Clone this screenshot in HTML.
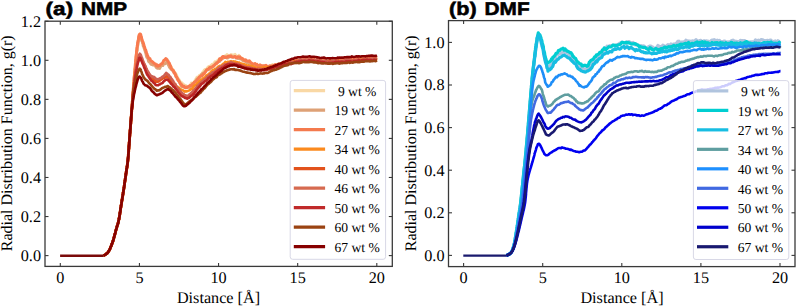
<!DOCTYPE html>
<html><head><meta charset="utf-8"><style>html,body{margin:0;padding:0;background:#fff;width:798px;height:308px;overflow:hidden}svg{display:block}text{text-rendering:geometricPrecision}</style></head>
<body><svg width="798" height="308" viewBox="0 0 798 308">
<style>.t{font-family:"Liberation Serif",serif;font-size:16.2px;fill:#000}
.lg{font-family:"Liberation Serif",serif;font-size:13.6px;fill:#000}
.ti{font-family:"Liberation Sans",sans-serif;font-weight:bold;font-size:18.4px;fill:#000;stroke:#000;stroke-width:0.55px}</style>
<rect width="798" height="308" fill="#fff"/>
<g><line x1="60.1" y1="255.7" x2="104.5" y2="255.7" stroke="#7a0a0a" stroke-width="2.4"/>
<path d="M103.5,255.7 104.3,255.2 105.5,254.5 106.3,253.9 107.1,253.3 108.0,252.3 108.5,251.6 109.0,250.7 109.5,249.8 110.0,248.8 110.5,247.6 110.8,246.8 111.2,246.0 111.5,245.1 111.9,244.1 112.2,243.2 112.6,242.1 113.0,241.1 113.3,240.0 113.6,239.1 113.8,238.2 114.1,237.2 114.4,236.2 114.7,235.2 114.9,234.1 115.2,233.1 115.5,232.0 115.7,231.0 116.0,230.0 116.3,229.0 116.6,228.1 116.8,227.2 117.1,226.2 117.4,225.3 117.7,224.4 118.0,223.4 118.3,222.3 118.5,221.2 118.8,220.0 119.0,219.1 119.1,218.3 119.3,217.3 119.5,216.4 119.6,215.4 119.8,214.4 119.9,213.3 120.1,212.3 120.3,211.2 120.4,210.2 120.6,209.1 120.7,208.1 120.9,207.0 121.0,206.0 121.2,205.0 121.4,204.0 121.5,203.0 121.7,202.0 121.8,201.0 122.0,200.0 122.2,199.0 122.3,198.0 122.5,197.0 122.7,196.0 122.8,195.0 123.0,194.0 123.1,193.0 123.3,192.0 123.4,191.0 123.6,190.0 123.8,189.0 123.9,188.0 124.1,187.0 124.2,186.0 124.4,185.0 124.5,184.0 124.6,183.0 124.8,182.0 124.9,181.0 125.1,180.0 125.2,179.0 125.4,178.0 125.5,177.0 125.7,176.0 125.8,175.0 125.9,174.0 126.1,173.0 126.2,172.0 126.4,171.1 126.5,170.1 126.7,169.1 126.8,168.2 127.0,167.2 127.1,166.2 127.3,165.2 127.4,164.2 127.5,163.2 127.7,162.2 127.8,161.1 127.9,160.0 128.0,159.1 128.1,158.1 128.2,157.2 128.3,156.2 128.3,155.2 128.4,154.2 128.5,153.2 128.6,152.2 128.7,151.1 128.7,150.1 128.8,149.1 128.9,148.0 128.9,147.0 129.0,146.0 129.1,145.0 129.2,144.0 129.2,143.0 129.3,142.0 129.4,141.0 129.5,140.0 129.5,138.9 129.6,137.9 129.7,136.9 129.8,135.9 129.8,134.9 129.9,133.9 130.0,132.9 130.1,132.0 130.1,131.0 130.2,130.0 130.3,129.0 130.4,128.0 130.4,127.0 130.5,126.0 130.6,125.0 130.7,124.0 130.8,123.0 130.8,122.0 130.9,121.0 131.0,120.0 131.1,119.0 131.1,118.0 131.2,117.1 131.3,116.1 131.4,115.1 131.4,114.1 131.5,113.1 131.6,112.1 131.7,111.1 131.7,110.0 131.8,109.0 131.9,108.0 132.0,107.0 132.0,106.5 132.1,105.8 132.2,104.5 132.2,102.3 132.3,101.8 132.4,100.4 132.5,100.2 132.5,98.5 132.6,98.6 132.7,97.7 132.7,97.7 132.8,96.1 132.9,95.0 133.0,93.3 133.0,91.8 133.1,91.9 133.2,90.4 133.3,89.5 133.4,88.4 133.4,87.7 133.5,85.2 133.6,83.6 133.7,83.9 133.8,84.4 133.9,81.2 134.0,80.2 134.1,79.7 134.2,78.4 134.2,77.4 134.3,76.3 134.4,76.1 134.5,74.8 134.6,73.7 134.7,71.8 134.8,71.7 134.9,71.6 135.0,70.3 135.1,68.5 135.2,66.6 135.3,66.3 135.4,65.5 135.5,64.1 135.6,61.6 135.7,61.0 135.8,59.9 135.9,58.9 136.0,58.7 136.1,57.1 136.2,56.4 136.3,56.5 136.4,54.6 136.5,53.7 136.6,53.3 136.7,51.8 136.8,50.2 136.9,50.2 137.1,49.6 137.2,46.9 137.4,46.1 137.5,45.0 137.7,45.1 137.8,42.7 138.0,42.2 138.1,40.6 138.2,39.9 138.4,39.8 138.5,39.0 138.8,37.4 139.2,35.7 139.5,34.2 139.8,35.1 140.2,36.2 140.7,36.7 141.2,37.8 141.5,39.5 141.8,40.3 142.2,41.1 142.5,42.5 142.9,42.5 143.2,43.3 143.5,44.7 143.8,45.1 144.1,46.6 144.4,47.9 144.7,49.3 145.0,50.4 145.4,50.2 145.8,51.7 146.2,53.3 146.6,55.0 147.0,56.2 147.5,56.5 148.0,57.3 148.4,57.6 148.9,58.8 149.4,59.6 150.0,60.1 150.5,61.3 151.3,63.2 152.2,64.4 153.1,64.4 154.0,64.5 154.8,65.3 155.6,66.4 156.4,67.2 157.2,67.6 158.0,67.4 158.8,67.0 159.6,68.0 160.4,67.0 161.2,64.9 162.0,64.8 162.9,63.3 163.8,62.9 164.7,61.7 165.7,61.6 166.5,61.1 167.1,61.5 167.7,62.7 168.2,63.8 168.8,63.4 169.3,65.9 170.0,65.2 170.6,65.9 171.3,67.2 172.0,68.8 172.8,69.6 173.5,70.2 174.3,72.0 175.0,72.7 175.6,73.3 176.1,74.8 176.7,75.0 177.2,77.5 177.8,78.5 178.3,78.7 178.9,79.4 179.4,80.3 180.0,81.5 180.7,82.4 181.4,82.5 182.1,82.9 182.9,84.9 183.6,84.4 184.3,84.9 185.0,86.4 185.9,85.5 186.8,86.3 187.6,86.7 188.7,87.2 190.0,85.9 190.6,84.6 191.3,83.0 192.0,83.5 192.8,83.1 193.6,82.7 194.4,82.0 195.2,80.2 196.1,78.9 196.9,77.3 197.7,77.2 198.5,77.0 199.3,75.5 200.0,75.1 200.9,74.8 201.7,74.5 202.6,72.5 203.4,71.6 204.2,70.3 205.0,69.4 205.7,69.7 206.5,69.5 207.2,68.1 208.0,67.3 208.9,66.4 209.8,67.2 210.7,65.6 211.6,64.9 212.4,64.1 213.3,64.4 214.1,63.4 215.0,61.8 215.8,62.1 216.5,61.7 217.3,60.9 218.1,60.2 218.8,59.6 219.6,59.1 220.4,58.9 221.2,58.2 222.0,57.9 223.0,57.3 223.9,56.7 224.9,56.0 225.9,55.7 227.0,54.6 228.0,55.6 229.0,56.5 230.0,55.5 231.0,54.5 232.0,55.0 233.0,54.8 234.1,55.6 235.1,54.4 236.1,56.1 237.0,56.8 238.0,56.7 238.9,55.3 239.7,56.3 240.5,58.2 241.2,58.4 242.1,58.2 242.9,59.2 243.9,59.9 245.0,59.7 245.8,60.6 246.6,61.8 247.4,62.5 248.4,63.1 249.3,63.1 250.3,62.8 251.2,63.3 252.2,65.0 253.2,65.0 254.2,65.4 255.2,64.6 256.1,65.8 257.0,65.8 258.0,66.9 259.0,66.1 260.0,66.1 261.0,66.1 262.0,66.0 263.0,66.1 264.0,66.5 265.0,66.5 266.0,66.8 267.0,67.8 268.0,67.3 268.9,67.1 269.8,66.2 270.7,67.4 271.6,66.1 272.5,64.6 273.4,65.4 274.4,65.7 275.4,64.9 276.4,65.9 277.5,64.2 278.7,63.5 280.0,64.0 280.8,63.9 281.7,63.8 282.7,64.2 283.6,63.7 284.7,64.4 285.7,62.7 286.8,63.2 287.9,64.2 289.0,63.2 290.1,63.0 291.2,63.2 292.3,62.3 293.4,61.6 294.5,59.8 295.5,60.2 296.5,61.3 297.5,60.9 298.4,60.1 299.2,60.5 300.0,60.5 301.4,60.5 302.6,60.0 303.7,60.3 304.7,59.5 305.6,60.9 306.5,60.5 307.3,59.8 308.2,60.2 309.0,59.9 310.0,60.0 311.0,59.6 312.0,59.6 313.0,59.6 314.0,59.7 315.0,60.3 316.0,59.9 317.0,59.9 318.0,60.4 319.0,59.9 320.0,60.3 321.0,60.7 321.9,60.9 322.8,60.8 323.8,59.2 324.7,60.5 325.6,61.1 326.6,60.7 327.7,61.5 328.8,61.2 330.0,60.6 330.9,60.6 331.7,61.0 332.7,60.6 333.6,60.6 334.6,61.2 335.6,62.0 336.7,60.9 337.7,60.4 338.8,61.6 339.8,60.7 340.9,60.4 341.9,60.3 343.0,60.5 344.0,60.6 345.0,60.7 346.0,61.2 347.0,61.1 348.0,61.1 348.9,59.5 349.9,60.2 350.9,61.6 351.9,60.1 352.9,60.8 353.9,59.6 354.9,59.4 355.9,59.1 356.9,58.3 357.9,58.9 358.9,58.6 360.0,59.8 361.0,58.8 362.0,58.0 363.1,60.0 364.2,59.3 365.4,59.3 366.5,60.6 367.7,59.2 368.9,58.1 370.0,58.4 371.1,58.6 372.2,58.4 373.2,58.8 374.1,57.9 375.0,59.0 375.8,58.6 376.4,58.4 377.0,59.4" fill="none" stroke="#f7d7a3" stroke-width="2.9" stroke-linejoin="round" stroke-linecap="butt"/>
<path d="M103.5,255.7 104.3,255.2 105.5,254.5 106.3,253.9 107.1,253.3 108.0,252.3 108.5,251.6 109.0,250.7 109.5,249.8 110.0,248.8 110.5,247.6 110.8,246.8 111.2,246.0 111.5,245.1 111.9,244.1 112.2,243.2 112.6,242.1 113.0,241.1 113.3,240.0 113.6,239.1 113.8,238.2 114.1,237.2 114.4,236.2 114.7,235.2 114.9,234.1 115.2,233.1 115.5,232.0 115.7,231.0 116.0,230.0 116.3,229.0 116.6,228.1 116.8,227.2 117.1,226.2 117.4,225.3 117.7,224.4 118.0,223.4 118.3,222.3 118.5,221.2 118.8,220.0 119.0,219.1 119.1,218.3 119.3,217.3 119.5,216.4 119.6,215.4 119.8,214.4 119.9,213.3 120.1,212.3 120.3,211.2 120.4,210.2 120.6,209.1 120.7,208.1 120.9,207.0 121.0,206.0 121.2,205.0 121.4,204.0 121.5,203.0 121.7,202.0 121.8,201.0 122.0,200.0 122.2,199.0 122.3,198.0 122.5,197.0 122.7,196.0 122.8,195.0 123.0,194.0 123.1,193.0 123.3,192.0 123.4,191.0 123.6,190.0 123.8,189.0 123.9,188.0 124.1,187.0 124.2,186.0 124.4,185.0 124.5,184.0 124.6,183.0 124.8,182.0 124.9,181.0 125.1,180.0 125.2,179.0 125.4,178.0 125.5,177.0 125.7,176.0 125.8,175.0 125.9,174.0 126.1,173.0 126.2,172.0 126.4,171.1 126.5,170.1 126.7,169.1 126.8,168.2 127.0,167.2 127.1,166.2 127.3,165.2 127.4,164.2 127.5,163.2 127.7,162.2 127.8,161.1 127.9,160.0 128.0,159.1 128.1,158.1 128.2,157.2 128.3,156.2 128.3,155.2 128.4,154.2 128.5,153.2 128.6,152.2 128.7,151.1 128.7,150.1 128.8,149.1 128.9,148.0 128.9,147.0 129.0,146.0 129.1,145.0 129.2,144.0 129.2,143.0 129.3,142.0 129.4,141.0 129.5,140.0 129.5,138.9 129.6,137.9 129.7,136.9 129.8,135.9 129.8,134.9 129.9,133.9 130.0,132.9 130.1,132.0 130.1,131.0 130.2,130.0 130.3,129.0 130.4,128.0 130.4,127.0 130.5,126.0 130.6,125.0 130.7,124.0 130.8,123.0 130.8,122.0 130.9,121.0 131.0,120.0 131.1,119.0 131.1,118.0 131.2,117.1 131.3,116.1 131.4,115.1 131.4,114.1 131.5,113.1 131.6,112.1 131.7,111.1 131.7,110.0 131.8,109.0 131.9,108.0 132.0,107.0 132.0,105.8 132.1,104.8 132.2,105.1 132.2,103.2 132.3,101.4 132.4,101.1 132.5,100.2 132.5,99.5 132.6,98.1 132.7,97.9 132.7,96.7 132.8,96.6 132.9,94.9 133.0,93.5 133.0,92.9 133.1,91.8 133.2,89.9 133.3,89.4 133.4,87.8 133.5,87.6 133.5,85.9 133.6,85.1 133.7,83.6 133.8,83.0 133.9,82.6 134.0,81.7 134.1,79.8 134.2,78.1 134.3,77.8 134.4,76.4 134.5,75.2 134.6,74.8 134.7,73.0 134.8,72.8 134.9,72.2 135.0,70.7 135.1,69.1 135.2,68.2 135.3,68.1 135.4,66.7 135.5,66.0 135.6,64.5 135.7,63.3 135.8,62.2 135.9,61.1 136.0,60.2 136.1,59.4 136.2,58.7 136.3,57.1 136.4,55.5 136.5,54.5 136.6,53.4 136.7,51.9 136.8,51.9 136.9,51.0 137.1,50.9 137.2,48.9 137.4,47.0 137.5,46.6 137.7,45.6 137.8,45.1 138.0,43.9 138.1,43.9 138.2,42.0 138.4,41.4 138.5,40.3 138.8,38.4 139.2,36.4 139.5,36.4 139.8,35.2 140.2,36.2 140.7,37.7 141.2,39.3 141.5,39.1 141.8,41.0 142.2,41.5 142.5,43.0 142.9,43.8 143.2,46.0 143.5,46.1 143.8,46.9 144.1,48.1 144.4,48.3 144.7,49.5 145.0,50.7 145.4,52.1 145.8,53.0 146.2,55.1 146.6,56.7 147.0,57.6 147.5,57.9 148.0,59.0 148.4,60.8 148.9,61.8 149.4,62.3 150.0,62.3 150.5,63.6 151.3,64.4 152.2,64.7 153.1,65.0 154.0,64.9 154.8,65.2 155.6,66.0 156.4,67.5 157.2,68.3 158.0,68.2 158.8,68.1 159.6,68.4 160.4,66.6 161.2,65.9 162.0,64.8 162.9,65.5 163.8,64.0 164.7,63.9 165.7,63.3 166.5,62.4 167.1,63.2 167.7,63.7 168.2,64.7 168.8,65.6 169.3,66.9 170.0,68.0 170.6,68.1 171.1,69.4 171.8,69.6 172.4,70.0 173.1,71.2 173.7,72.0 174.4,73.0 175.0,73.8 175.6,75.6 176.1,76.9 176.7,77.2 177.2,79.0 177.8,79.6 178.3,80.1 178.9,80.7 179.4,82.2 180.0,83.0 180.7,84.1 181.4,86.4 182.1,86.7 182.9,86.8 183.6,86.7 184.3,87.3 185.0,87.5 185.9,87.8 186.8,86.9 187.6,87.6 188.7,86.7 190.0,87.4 190.6,86.2 191.3,86.0 192.0,85.2 192.8,83.9 193.6,83.4 194.4,82.3 195.2,81.5 196.1,80.8 196.9,79.0 197.7,79.6 198.5,78.8 199.3,77.8 200.0,77.7 200.9,75.9 201.7,74.0 202.6,74.2 203.4,73.2 204.2,72.7 205.0,71.8 205.7,71.2 206.5,70.2 207.2,69.9 208.0,69.8 208.9,69.1 209.8,69.2 210.7,68.3 211.6,67.6 212.4,66.9 213.3,66.5 214.1,65.7 215.0,64.4 215.8,63.6 216.5,62.5 217.3,62.4 218.1,62.1 218.8,61.6 219.6,61.4 220.4,60.1 221.2,58.4 222.0,58.3 223.0,58.3 223.9,57.1 224.9,56.8 225.9,56.6 227.0,58.0 228.0,58.0 229.0,57.0 230.0,56.7 231.0,56.9 232.0,57.1 233.0,57.2 234.1,56.6 235.1,56.6 236.1,58.0 237.0,57.9 238.0,58.6 239.0,58.5 239.9,58.8 240.8,59.2 241.7,59.4 242.7,60.5 243.7,61.1 245.0,61.2 245.8,61.5 246.6,62.5 247.4,61.9 248.4,62.9 249.3,63.6 250.3,64.4 251.2,64.9 252.2,64.3 253.2,65.1 254.2,65.0 255.2,65.8 256.1,66.0 257.0,66.5 258.0,66.1 259.0,66.5 260.0,66.9 261.0,67.2 262.0,67.5 263.0,68.1 264.0,67.0 265.0,67.1 266.0,66.2 267.0,67.1 268.0,67.8 268.9,67.3 269.8,67.6 270.7,68.1 271.6,67.3 272.5,67.2 273.4,67.1 274.4,66.0 275.4,65.3 276.4,65.3 277.5,64.9 278.7,65.4 280.0,63.9 280.8,63.4 281.7,63.2 282.7,64.1 283.6,64.0 284.7,63.8 285.7,63.5 286.8,63.2 287.9,62.8 289.0,63.0 290.1,62.7 291.2,62.7 292.3,62.3 293.4,62.1 294.5,61.9 295.5,62.7 296.5,62.8 297.5,62.3 298.4,60.5 299.2,61.0 300.0,61.5 301.4,61.1 302.6,59.8 303.7,59.9 304.7,61.4 305.6,60.5 306.5,59.5 307.3,59.8 308.2,60.5 309.0,60.3 310.0,59.7 311.0,58.9 312.0,59.9 313.0,59.4 314.0,60.6 315.0,61.3 316.0,61.2 317.0,61.0 318.0,61.0 319.0,61.0 320.0,60.8 321.0,60.6 321.9,60.6 322.8,62.0 323.8,62.6 324.7,62.0 325.6,62.1 326.6,61.7 327.7,61.8 328.8,62.5 330.0,62.5 330.9,62.6 331.7,62.4 332.7,62.4 333.6,61.6 334.6,62.0 335.6,60.8 336.7,61.4 337.7,61.6 338.8,61.7 339.8,60.4 340.9,61.4 341.9,60.6 343.0,59.7 344.0,60.5 345.0,60.7 346.0,60.0 347.0,60.7 348.0,60.7 348.9,60.7 349.9,60.0 350.9,60.8 351.9,60.6 352.9,60.4 353.9,59.8 354.9,59.7 355.9,59.9 356.9,59.1 357.9,59.3 358.9,60.4 360.0,60.0 361.0,59.9 362.0,59.7 363.1,60.1 364.2,60.4 365.4,60.0 366.5,59.5 367.7,59.9 368.9,60.1 370.0,59.5 371.1,59.6 372.2,59.7 373.2,59.8 374.1,59.4 375.0,58.9 375.8,59.1 376.4,58.8 377.0,58.9" fill="none" stroke="#dea176" stroke-width="2.9" stroke-linejoin="round" stroke-linecap="butt"/>
<path d="M103.5,255.7 104.3,255.2 105.5,254.5 106.3,253.9 107.1,253.3 108.0,252.3 108.5,251.6 109.0,250.7 109.5,249.8 110.0,248.8 110.5,247.6 110.8,246.8 111.2,246.0 111.5,245.1 111.9,244.1 112.2,243.2 112.6,242.1 113.0,241.1 113.3,240.0 113.6,239.1 113.8,238.2 114.1,237.2 114.4,236.2 114.7,235.2 114.9,234.1 115.2,233.1 115.5,232.0 115.7,231.0 116.0,230.0 116.3,229.0 116.6,228.1 116.8,227.2 117.1,226.2 117.4,225.3 117.7,224.4 118.0,223.4 118.3,222.3 118.5,221.2 118.8,220.0 119.0,219.1 119.1,218.3 119.3,217.3 119.5,216.4 119.6,215.4 119.8,214.4 119.9,213.3 120.1,212.3 120.3,211.2 120.4,210.2 120.6,209.1 120.7,208.1 120.9,207.0 121.0,206.0 121.2,205.0 121.4,204.0 121.5,203.0 121.7,202.0 121.8,201.0 122.0,200.0 122.2,199.0 122.3,198.0 122.5,197.0 122.7,196.0 122.8,195.0 123.0,194.0 123.1,193.0 123.3,192.0 123.4,191.0 123.6,190.0 123.8,189.0 123.9,188.0 124.1,187.0 124.2,186.0 124.4,185.0 124.5,184.0 124.6,183.0 124.8,182.0 124.9,181.0 125.1,180.0 125.2,179.0 125.4,178.0 125.5,177.0 125.7,176.0 125.8,175.0 125.9,174.0 126.1,173.0 126.2,172.0 126.4,171.1 126.5,170.1 126.7,169.1 126.8,168.2 127.0,167.2 127.1,166.2 127.3,165.2 127.4,164.2 127.5,163.2 127.7,162.2 127.8,161.1 127.9,160.0 128.0,159.1 128.1,158.1 128.2,157.2 128.3,156.2 128.3,155.2 128.4,154.2 128.5,153.2 128.6,152.2 128.7,151.1 128.7,150.1 128.8,149.1 128.9,148.0 128.9,147.0 129.0,146.0 129.1,145.0 129.2,144.0 129.2,143.0 129.3,142.0 129.4,141.0 129.5,140.0 129.5,138.9 129.6,137.9 129.7,136.9 129.8,135.9 129.8,134.9 129.9,133.9 130.0,132.9 130.1,132.0 130.1,131.0 130.2,130.0 130.3,129.0 130.4,128.0 130.4,127.0 130.5,126.0 130.6,125.0 130.7,124.0 130.8,123.0 130.8,122.0 130.9,121.0 131.0,120.0 131.1,119.0 131.1,118.0 131.2,117.1 131.3,116.1 131.4,115.1 131.4,114.1 131.5,113.1 131.6,112.1 131.7,111.1 131.7,110.0 131.8,109.0 131.9,108.0 132.0,107.0 132.0,106.5 132.1,105.8 132.2,104.8 132.2,104.1 132.3,102.2 132.4,100.9 132.5,99.7 132.5,98.7 132.6,98.7 132.7,97.6 132.7,96.0 132.8,94.8 132.9,94.7 133.0,92.8 133.0,91.8 133.1,91.2 133.2,90.7 133.3,90.0 133.3,88.2 133.4,86.6 133.5,85.4 133.6,85.2 133.7,84.3 133.7,83.8 133.8,82.8 133.9,81.9 134.0,79.9 134.1,78.4 134.1,77.8 134.2,77.1 134.3,75.6 134.4,75.5 134.5,73.3 134.6,72.6 134.7,71.3 134.7,70.9 134.8,70.2 134.9,68.9 135.0,68.2 135.1,67.6 135.2,65.7 135.3,64.3 135.4,63.0 135.5,62.2 135.6,60.8 135.7,59.3 135.8,59.3 135.9,57.7 136.0,55.9 136.1,56.0 136.2,54.5 136.3,54.3 136.4,53.9 136.5,52.0 136.6,50.7 136.7,50.9 136.8,49.0 136.9,48.1 137.1,46.9 137.2,45.7 137.4,45.6 137.5,44.2 137.7,42.2 137.8,42.5 138.0,41.6 138.1,40.4 138.2,40.4 138.4,39.5 138.5,38.6 138.8,36.1 139.2,34.8 139.5,34.7 139.8,34.1 140.2,33.9 140.7,34.3 141.2,36.5 141.5,37.4 141.8,38.8 142.2,39.9 142.5,41.0 142.9,41.7 143.2,42.8 143.5,43.4 143.8,44.6 144.1,45.7 144.4,46.7 144.7,47.2 145.0,48.6 145.4,49.5 145.8,50.1 146.2,51.6 146.6,53.2 147.0,53.8 147.5,55.7 148.0,56.4 148.4,57.7 148.9,58.6 149.4,58.2 150.0,58.6 150.5,60.3 151.3,61.0 152.2,61.5 153.1,62.5 154.0,63.2 154.8,63.9 155.6,64.0 156.4,65.7 157.2,64.8 158.0,66.2 158.8,65.6 159.6,65.6 160.4,64.6 161.2,63.9 162.0,63.8 162.9,62.2 163.8,60.3 164.7,59.9 165.7,58.6 166.5,59.1 167.1,59.6 167.7,60.9 168.2,61.4 168.8,62.8 169.3,63.1 170.0,64.8 170.4,65.6 170.9,66.9 171.4,68.7 171.9,69.1 172.4,70.0 172.9,70.0 173.5,70.8 174.0,72.9 174.5,72.5 175.0,73.6 175.6,75.1 176.1,76.5 176.7,76.9 177.2,78.0 177.8,79.3 178.3,80.7 178.9,81.2 179.4,81.7 180.0,83.1 180.7,84.2 181.4,84.4 182.1,85.4 182.9,86.0 183.6,86.7 184.3,86.3 185.0,87.3 185.9,87.7 186.8,87.1 187.6,87.2 188.7,86.4 190.0,85.5 190.6,85.2 191.3,85.9 192.0,85.2 192.8,83.4 193.6,83.4 194.4,82.1 195.2,81.9 196.1,81.0 196.9,80.4 197.7,79.5 198.5,78.0 199.3,76.9 200.0,76.5 200.9,75.8 201.7,75.5 202.6,75.5 203.4,73.9 204.2,73.7 205.0,72.4 205.7,71.6 206.5,70.0 207.2,69.6 208.0,69.4 208.9,68.3 209.8,67.4 210.7,67.1 211.6,67.2 212.4,66.8 213.3,65.6 214.1,65.6 215.0,64.6 215.8,63.7 216.5,63.8 217.3,62.9 218.1,62.0 218.8,61.1 219.6,58.7 220.4,59.5 221.2,59.7 222.0,57.4 223.0,56.4 223.9,56.8 224.9,57.6 225.9,57.3 227.0,57.2 228.0,56.4 229.0,56.0 230.0,56.5 231.0,55.8 232.0,56.9 233.0,57.1 234.1,56.8 235.1,56.5 236.1,57.8 237.0,57.5 238.0,56.7 239.0,57.0 239.9,56.8 240.8,58.3 241.7,58.1 242.7,58.8 243.7,59.6 245.0,60.7 245.8,59.8 246.6,60.8 247.4,60.9 248.4,61.3 249.3,60.7 250.3,62.0 251.2,62.8 252.2,63.4 253.2,64.0 254.2,63.8 255.2,63.5 256.1,64.7 257.0,64.3 258.0,66.3 259.0,65.7 260.0,64.7 261.0,65.9 262.0,65.8 263.0,65.6 264.0,65.6 265.0,65.8 266.0,65.2 267.0,66.3 268.0,66.7 268.9,66.2 269.8,65.6 270.7,65.8 271.6,66.2 272.5,65.9 273.4,65.4 274.4,65.4 275.4,64.4 276.4,65.0 277.5,65.4 278.7,65.0 280.0,64.7 280.8,64.4 281.7,63.2 282.7,64.0 283.6,64.1 284.7,62.8 285.7,62.6 286.8,62.9 287.9,62.7 289.0,61.7 290.1,61.1 291.2,60.7 292.3,61.2 293.4,61.5 294.5,61.4 295.5,60.7 296.5,60.6 297.5,60.1 298.4,60.6 299.2,60.2 300.0,59.7 301.4,60.2 302.6,59.7 303.7,59.2 304.7,58.7 305.6,59.0 306.5,59.9 307.3,58.9 308.2,59.7 309.0,58.8 310.0,58.7 311.0,59.6 312.0,59.0 313.0,59.1 314.0,59.2 315.0,60.2 316.0,60.3 317.0,59.8 318.0,59.8 319.0,60.3 320.0,59.9 321.0,60.6 321.9,61.1 322.8,61.1 323.8,60.3 324.7,61.3 325.6,60.9 326.6,61.6 327.7,61.4 328.8,61.0 330.0,59.9 330.9,61.5 331.7,60.6 332.7,60.9 333.6,61.3 334.6,61.6 335.6,60.5 336.7,61.4 337.7,60.5 338.8,60.3 339.8,61.4 340.9,60.6 341.9,60.3 343.0,59.5 344.0,59.9 345.0,58.7 346.0,59.6 347.0,60.1 348.0,59.9 348.9,59.3 349.9,60.5 350.9,59.8 351.9,59.3 352.9,59.4 353.9,58.9 354.9,58.7 355.9,58.3 356.9,58.4 357.9,57.8 358.9,58.8 360.0,58.6 361.0,58.6 362.0,58.9 363.1,58.5 364.2,59.6 365.4,58.3 366.5,58.6 367.7,58.9 368.9,58.4 370.0,57.9 371.1,57.6 372.2,58.6 373.2,58.2 374.1,58.4 375.0,57.2 375.8,57.4 376.4,58.0 377.0,57.9" fill="none" stroke="#f97a4f" stroke-width="2.9" stroke-linejoin="round" stroke-linecap="butt"/>
<path d="M103.5,255.7 104.3,255.2 105.5,254.5 106.3,253.9 107.1,253.3 108.0,252.3 108.5,251.6 109.0,250.7 109.5,249.8 110.0,248.8 110.5,247.6 110.8,246.8 111.2,246.0 111.5,245.1 111.9,244.1 112.2,243.2 112.6,242.1 113.0,241.1 113.3,240.0 113.6,239.1 113.8,238.2 114.1,237.2 114.4,236.2 114.7,235.2 114.9,234.1 115.2,233.1 115.5,232.0 115.7,231.0 116.0,230.0 116.3,229.0 116.6,228.1 116.8,227.2 117.1,226.2 117.4,225.3 117.7,224.4 118.0,223.4 118.3,222.3 118.5,221.2 118.8,220.0 119.0,219.1 119.1,218.3 119.3,217.3 119.5,216.4 119.6,215.4 119.8,214.4 119.9,213.3 120.1,212.3 120.3,211.2 120.4,210.2 120.6,209.1 120.7,208.1 120.9,207.0 121.0,206.0 121.2,205.0 121.4,204.0 121.5,203.0 121.7,202.0 121.8,201.0 122.0,200.0 122.2,199.0 122.3,198.0 122.5,197.0 122.7,196.0 122.8,195.0 123.0,194.0 123.1,193.0 123.3,192.0 123.4,191.0 123.6,190.0 123.8,189.0 123.9,188.0 124.1,187.0 124.2,186.0 124.4,185.0 124.5,184.0 124.6,183.0 124.8,182.0 124.9,181.0 125.1,180.0 125.2,179.0 125.4,178.0 125.5,177.0 125.7,176.0 125.8,175.0 125.9,174.0 126.1,173.0 126.2,172.0 126.4,171.1 126.5,170.1 126.7,169.1 126.8,168.2 127.0,167.2 127.1,166.2 127.3,165.2 127.4,164.2 127.5,163.2 127.7,162.2 127.8,161.1 127.9,160.0 128.0,159.1 128.1,158.1 128.2,157.2 128.3,156.2 128.3,155.2 128.4,154.2 128.5,153.2 128.6,152.2 128.7,151.1 128.7,150.1 128.8,149.1 128.9,148.0 128.9,147.0 129.0,146.0 129.1,145.0 129.2,144.0 129.2,143.0 129.3,142.0 129.4,141.0 129.5,140.0 129.5,138.9 129.6,137.9 129.7,136.9 129.8,135.9 129.8,134.9 129.9,133.9 130.0,132.9 130.1,132.0 130.1,131.0 130.2,130.0 130.3,129.0 130.4,128.0 130.4,127.0 130.5,126.0 130.6,125.0 130.7,124.0 130.8,123.0 130.8,122.0 130.9,121.0 131.0,120.0 131.1,119.0 131.1,118.0 131.2,117.1 131.3,116.1 131.4,115.1 131.4,114.1 131.5,113.1 131.6,112.1 131.7,111.1 131.7,110.0 131.8,109.0 131.9,108.0 132.0,107.0 132.0,106.4 132.1,105.1 132.2,103.9 132.3,102.4 132.3,101.8 132.4,101.1 132.5,99.8 132.6,98.8 132.7,97.3 132.7,97.2 132.8,96.1 132.9,94.8 133.0,94.1 133.0,93.1 133.1,92.0 133.2,90.9 133.3,90.0 133.4,89.1 133.5,88.2 133.6,87.2 133.7,86.1 133.8,85.2 133.9,83.8 134.0,82.1 134.1,80.9 134.2,80.7 134.3,79.1 134.4,78.2 134.5,77.5 134.6,77.0 134.8,75.2 134.9,74.3 135.0,73.5 135.2,72.4 135.4,71.5 135.6,70.8 135.8,69.7 136.0,69.5 136.2,68.3 136.4,66.1 136.6,64.7 136.8,64.1 137.0,63.3 137.1,63.0 137.3,62.3 137.6,60.9 137.9,59.5 138.2,58.6 138.5,57.9 138.7,57.0 139.8,55.7 140.3,55.6 141.0,57.7 141.3,58.4 141.6,59.9 141.9,59.9 142.3,60.0 142.8,61.2 143.5,62.8 143.8,63.4 144.2,64.0 144.6,65.2 145.0,65.9 145.5,67.8 145.9,68.2 146.4,69.8 146.9,71.3 147.4,72.3 147.9,73.6 148.4,74.4 149.0,75.4 149.5,75.6 150.0,76.0 150.8,77.1 151.7,78.2 152.6,79.3 153.5,79.3 154.4,79.8 155.3,80.1 156.2,80.9 157.1,80.8 158.0,81.3 158.9,80.8 159.8,80.1 160.7,79.5 161.7,78.4 162.6,77.2 163.5,77.0 164.4,76.6 165.2,77.2 166.0,76.8 167.0,77.1 167.9,77.3 168.8,77.7 169.6,78.0 170.4,78.7 171.2,80.5 172.0,80.9 172.8,81.5 173.5,82.8 174.3,83.4 175.0,84.2 175.7,85.8 176.3,86.2 177.0,86.5 177.9,87.1 178.7,87.6 179.4,88.5 180.2,89.2 181.0,89.4 182.0,90.0 182.9,90.2 183.9,90.9 185.0,91.6 185.9,91.2 186.7,91.4 187.6,91.0 188.7,90.6 190.0,90.0 190.6,89.2 191.2,89.3 191.9,89.0 192.5,88.5 193.3,87.1 194.0,85.8 194.8,85.3 195.6,84.9 196.4,84.2 197.2,83.3 198.1,82.6 199.1,81.7 200.0,81.2 200.7,80.0 201.4,79.8 202.1,79.4 202.8,78.5 203.6,79.3 204.4,77.9 205.2,77.0 206.0,75.7 206.8,75.4 207.6,74.8 208.4,74.5 209.3,73.4 210.1,73.2 210.9,71.8 211.8,71.4 212.6,70.3 213.4,70.1 214.2,70.0 215.0,68.8 215.9,68.8 216.9,68.3 217.8,66.9 218.8,66.3 219.7,65.8 220.6,65.7 221.6,65.5 222.5,64.4 223.4,63.6 224.4,63.2 225.3,61.9 226.2,62.4 227.2,62.1 228.1,61.8 229.1,62.1 230.0,61.5 231.0,61.1 232.0,61.6 233.0,61.4 234.1,61.5 235.1,61.6 236.1,61.9 237.2,62.3 238.2,62.7 239.2,62.5 240.2,63.5 241.2,63.5 242.2,63.7 243.2,64.4 244.1,64.3 245.0,64.7 246.1,65.3 247.2,65.6 248.2,65.4 249.3,66.0 250.3,66.0 251.2,65.9 252.2,66.1 253.2,66.7 254.1,66.7 255.1,67.5 256.0,67.7 257.0,67.8 258.0,68.0 259.0,68.1 260.0,67.6 261.0,68.6 262.0,67.6 263.0,67.8 264.0,67.1 265.0,67.4 266.0,67.4 267.0,67.0 268.0,67.5 268.9,67.4 269.8,67.3 270.7,66.7 271.6,67.3 272.5,66.8 273.4,66.8 274.4,65.9 275.4,66.4 276.4,65.8 277.5,65.9 278.7,65.3 280.0,65.0 280.8,65.0 281.7,64.7 282.7,65.2 283.6,64.4 284.7,64.0 285.7,64.1 286.8,63.7 287.9,63.0 289.0,62.8 290.1,63.0 291.2,62.6 292.3,62.7 293.4,61.8 294.5,61.9 295.5,61.4 296.5,61.2 297.5,61.0 298.4,60.7 299.2,61.6 300.0,61.1 301.4,61.0 302.6,60.7 303.7,61.1 304.7,60.3 305.6,59.8 306.5,60.2 307.3,59.9 308.2,60.6 309.0,60.0 310.0,60.1 311.0,60.4 312.0,60.0 313.0,60.2 314.0,60.6 315.0,60.2 316.0,60.6 317.0,60.3 318.0,60.8 319.0,61.6 320.0,61.9 321.0,61.5 321.9,61.4 322.8,61.2 323.8,61.7 324.7,61.9 325.6,61.3 326.6,61.3 327.7,61.2 328.8,61.7 330.0,61.8 330.9,61.9 331.7,62.0 332.7,62.0 333.6,61.8 334.6,61.9 335.6,61.5 336.7,61.8 337.7,61.9 338.8,60.8 339.8,61.7 340.9,61.4 341.9,61.5 343.0,61.2 344.0,61.6 345.0,61.2 346.0,61.2 347.0,60.8 348.0,60.8 348.9,60.9 349.9,60.4 350.9,60.5 351.9,60.3 352.9,60.4 353.9,60.7 354.9,60.5 355.9,60.8 356.9,60.2 357.9,60.0 358.9,60.0 360.0,59.7 361.0,60.0 362.0,59.6 363.1,59.5 364.2,59.7 365.4,59.4 366.5,59.5 367.7,59.5 368.9,59.8 370.0,60.0 371.1,59.7 372.2,59.2 373.2,59.5 374.1,60.1 375.0,59.3 375.8,59.1 376.4,59.5 377.0,59.1" fill="none" stroke="#fb8a1c" stroke-width="2.6" stroke-linejoin="round" stroke-linecap="butt"/>
<path d="M103.5,255.7 104.3,255.2 105.5,254.5 106.3,253.9 107.1,253.3 108.0,252.3 108.5,251.6 109.0,250.7 109.5,249.8 110.0,248.8 110.5,247.6 110.8,246.8 111.2,246.0 111.5,245.1 111.9,244.1 112.2,243.2 112.6,242.1 113.0,241.1 113.3,240.0 113.6,239.1 113.8,238.2 114.1,237.2 114.4,236.2 114.7,235.2 114.9,234.1 115.2,233.1 115.5,232.0 115.7,231.0 116.0,230.0 116.3,229.0 116.6,228.1 116.8,227.2 117.1,226.2 117.4,225.3 117.7,224.4 118.0,223.4 118.3,222.3 118.5,221.2 118.8,220.0 119.0,219.1 119.1,218.3 119.3,217.3 119.5,216.4 119.6,215.4 119.8,214.4 119.9,213.3 120.1,212.3 120.3,211.2 120.4,210.2 120.6,209.1 120.7,208.1 120.9,207.0 121.0,206.0 121.2,205.0 121.4,204.0 121.5,203.0 121.7,202.0 121.8,201.0 122.0,200.0 122.2,199.0 122.3,198.0 122.5,197.0 122.7,196.0 122.8,195.0 123.0,194.0 123.1,193.0 123.3,192.0 123.4,191.0 123.6,190.0 123.8,189.0 123.9,188.0 124.1,187.0 124.2,186.0 124.4,185.0 124.5,184.0 124.6,183.0 124.8,182.0 124.9,181.0 125.1,180.0 125.2,179.0 125.4,178.0 125.5,177.0 125.7,176.0 125.8,175.0 125.9,174.0 126.1,173.0 126.2,172.0 126.4,171.1 126.5,170.1 126.7,169.1 126.8,168.2 127.0,167.2 127.1,166.2 127.3,165.2 127.4,164.2 127.5,163.2 127.7,162.2 127.8,161.1 127.9,160.0 128.0,159.1 128.1,158.1 128.2,157.2 128.3,156.2 128.3,155.2 128.4,154.2 128.5,153.2 128.6,152.2 128.7,151.1 128.7,150.1 128.8,149.1 128.9,148.0 128.9,147.0 129.0,146.0 129.1,145.0 129.2,144.0 129.2,143.0 129.3,142.0 129.4,141.0 129.5,140.0 129.5,138.9 129.6,137.9 129.7,136.9 129.8,135.9 129.8,134.9 129.9,133.9 130.0,132.9 130.1,132.0 130.1,131.0 130.2,130.0 130.3,129.0 130.4,128.0 130.4,127.0 130.5,126.0 130.6,125.0 130.7,124.0 130.8,123.0 130.8,122.0 130.9,121.0 131.0,120.0 131.1,119.0 131.1,118.0 131.2,117.1 131.3,116.1 131.4,115.1 131.4,114.1 131.5,113.1 131.6,112.1 131.7,111.1 131.7,110.0 131.8,109.0 131.9,108.0 132.0,107.0 132.1,106.6 132.1,105.1 132.2,104.0 132.3,102.8 132.4,101.7 132.5,101.2 132.5,100.0 132.6,98.9 132.7,98.2 132.8,97.5 132.9,96.4 133.0,95.3 133.0,93.8 133.1,93.2 133.2,92.3 133.3,90.8 133.4,89.7 133.5,89.0 133.6,87.5 133.7,86.4 133.9,85.3 134.0,84.7 134.1,83.4 134.2,82.5 134.3,81.7 134.4,81.0 134.6,80.1 134.7,79.1 134.8,78.0 134.9,76.4 135.1,75.7 135.2,75.3 135.4,74.1 135.6,72.6 135.8,71.7 136.0,70.4 136.2,69.3 136.4,68.1 136.6,66.8 136.8,65.6 137.0,64.6 137.1,64.0 137.3,64.2 137.6,61.9 137.9,61.0 138.1,60.3 138.4,59.4 138.6,58.4 138.8,57.7 139.3,56.1 139.8,55.3 140.2,55.8 140.9,57.5 141.2,58.2 141.5,59.1 141.9,59.8 142.2,61.2 142.6,62.2 143.1,63.0 143.5,63.6 143.9,64.4 144.3,65.6 144.8,66.7 145.2,67.5 145.7,69.0 146.1,69.4 146.6,71.0 147.0,71.1 147.6,72.7 148.2,73.5 148.8,74.1 149.3,75.4 150.0,76.3 150.7,77.2 151.6,78.2 152.4,78.7 153.2,79.1 154.0,79.9 154.9,81.0 155.7,81.7 156.6,81.5 157.5,81.6 158.3,81.5 159.2,81.1 160.1,80.0 161.1,79.5 162.0,78.9 163.0,78.1 164.0,78.1 165.0,77.1 166.1,76.5 167.0,76.4 167.9,76.5 168.7,77.5 169.4,78.6 170.2,79.6 171.0,80.6 171.7,81.6 172.3,82.3 172.9,83.0 173.6,84.1 174.3,85.1 175.0,85.8 175.6,86.7 176.1,87.4 176.7,88.3 177.3,89.4 177.9,90.5 178.6,91.7 179.3,92.3 180.0,92.4 180.8,93.1 181.6,93.2 182.5,94.2 183.4,94.9 184.4,95.9 185.3,96.5 186.2,97.1 187.0,97.2 187.9,96.6 188.8,96.4 189.6,96.7 190.4,95.9 191.2,95.1 192.1,94.1 193.0,92.4 193.6,92.2 194.1,91.7 194.6,90.8 195.1,90.2 195.7,89.9 196.2,89.0 196.8,88.2 197.5,87.2 198.2,86.4 199.1,85.6 200.0,84.6 200.6,83.7 201.2,83.1 201.9,82.2 202.6,82.2 203.4,81.5 204.1,81.1 204.9,80.5 205.8,79.2 206.6,78.6 207.4,78.1 208.3,76.7 209.1,76.4 210.0,75.8 210.8,75.0 211.7,74.6 212.5,73.6 213.4,73.2 214.2,73.0 215.0,72.1 215.9,71.8 216.8,70.8 217.6,70.2 218.5,69.9 219.4,69.2 220.3,68.7 221.2,68.2 222.1,67.8 222.9,66.5 223.8,66.6 224.7,65.7 225.6,65.3 226.5,64.7 227.4,64.8 228.2,64.4 229.1,63.4 230.0,63.3 231.0,63.2 232.0,63.3 233.0,63.5 234.1,63.8 235.1,63.8 236.1,64.1 237.2,64.4 238.2,64.6 239.2,65.5 240.2,65.6 241.2,66.0 242.2,66.4 243.2,66.4 244.1,67.2 245.0,67.2 246.1,67.7 247.2,67.6 248.2,68.1 249.3,68.2 250.3,68.2 251.2,68.3 252.2,68.2 253.2,69.0 254.1,68.8 255.1,68.7 256.0,69.5 257.0,69.4 258.0,69.7 259.0,69.7 260.0,69.2 261.0,69.5 262.0,69.9 263.0,69.5 264.0,68.9 265.0,69.5 266.0,69.2 267.0,69.2 268.0,68.8 268.9,68.8 269.8,68.3 270.7,67.8 271.6,68.1 272.5,67.9 273.4,68.0 274.4,67.0 275.4,66.9 276.4,66.2 277.5,66.6 278.7,65.8 280.0,65.7 280.8,65.0 281.7,64.9 282.7,64.6 283.6,64.6 284.7,64.4 285.7,64.4 286.8,64.1 287.9,64.0 289.0,63.4 290.1,63.2 291.2,62.4 292.3,62.6 293.4,62.3 294.5,61.4 295.5,61.6 296.5,61.4 297.5,61.8 298.4,61.3 299.2,61.2 300.0,61.1 301.4,61.1 302.6,61.3 303.7,60.8 304.7,60.4 305.6,60.5 306.5,60.4 307.3,60.3 308.2,60.4 309.0,60.1 310.0,60.5 311.0,60.6 312.0,60.7 313.0,60.6 314.0,60.7 315.0,61.0 316.0,60.8 317.0,60.9 318.0,61.3 319.0,61.1 320.0,61.5 321.0,61.5 321.9,61.6 322.8,61.7 323.8,61.9 324.7,61.9 325.6,61.6 326.6,61.6 327.7,61.8 328.8,61.7 330.0,61.2 330.9,61.2 331.7,61.6 332.7,62.0 333.6,62.2 334.6,62.7 335.6,61.9 336.7,61.5 337.7,61.5 338.8,61.5 339.8,61.6 340.9,61.9 341.9,61.6 343.0,61.7 344.0,61.6 345.0,61.2 346.0,60.6 347.0,61.0 348.0,61.0 348.9,60.4 349.9,61.0 350.9,60.7 351.9,60.7 352.9,61.0 353.9,60.9 354.9,60.6 355.9,60.4 356.9,60.6 357.9,60.5 358.9,60.2 360.0,60.4 361.0,60.6 362.0,60.2 363.1,59.7 364.2,59.8 365.4,59.4 366.5,59.5 367.7,59.7 368.9,59.5 370.0,59.2 371.1,59.8 372.2,59.5 373.2,59.6 374.1,59.5 375.0,59.2 375.8,59.7 376.4,59.3 377.0,59.4" fill="none" stroke="#e2501c" stroke-width="2.6" stroke-linejoin="round" stroke-linecap="butt"/>
<path d="M103.5,255.7 104.3,255.2 105.5,254.5 106.3,253.9 107.1,253.3 108.0,252.3 108.5,251.6 109.0,250.7 109.5,249.8 110.0,248.8 110.5,247.6 110.8,246.8 111.2,246.0 111.5,245.1 111.9,244.1 112.2,243.2 112.6,242.1 113.0,241.1 113.3,240.0 113.6,239.1 113.8,238.2 114.1,237.2 114.4,236.2 114.7,235.2 114.9,234.1 115.2,233.1 115.5,232.0 115.7,231.0 116.0,230.0 116.3,229.0 116.6,228.1 116.8,227.2 117.1,226.2 117.4,225.3 117.7,224.4 118.0,223.4 118.3,222.3 118.5,221.2 118.8,220.0 119.0,219.1 119.1,218.3 119.3,217.3 119.5,216.4 119.6,215.4 119.8,214.4 119.9,213.3 120.1,212.3 120.3,211.2 120.4,210.2 120.6,209.1 120.7,208.1 120.9,207.0 121.0,206.0 121.2,205.0 121.4,204.0 121.5,203.0 121.7,202.0 121.8,201.0 122.0,200.0 122.2,199.0 122.3,198.0 122.5,197.0 122.7,196.0 122.8,195.0 123.0,194.0 123.1,193.0 123.3,192.0 123.4,191.0 123.6,190.0 123.8,189.0 123.9,188.0 124.1,187.0 124.2,186.0 124.4,185.0 124.5,184.0 124.6,183.0 124.8,182.0 124.9,181.0 125.1,180.0 125.2,179.0 125.4,178.0 125.5,177.0 125.7,176.0 125.8,175.0 125.9,174.0 126.1,173.0 126.2,172.0 126.4,171.1 126.5,170.1 126.7,169.1 126.8,168.2 127.0,167.2 127.1,166.2 127.3,165.2 127.4,164.2 127.5,163.2 127.7,162.2 127.8,161.1 127.9,160.0 128.0,159.1 128.1,158.1 128.2,157.2 128.3,156.2 128.3,155.2 128.4,154.2 128.5,153.2 128.6,152.2 128.7,151.1 128.7,150.1 128.8,149.1 128.9,148.0 128.9,147.0 129.0,146.0 129.1,145.0 129.2,144.0 129.2,143.0 129.3,142.0 129.4,141.0 129.5,140.0 129.5,138.9 129.6,137.9 129.7,136.9 129.8,135.9 129.8,134.9 129.9,133.9 130.0,132.9 130.1,132.0 130.1,131.0 130.2,130.0 130.3,129.0 130.4,128.0 130.4,127.0 130.5,126.0 130.6,125.0 130.7,124.0 130.8,123.0 130.8,122.0 130.9,121.0 131.0,120.0 131.1,119.0 131.1,118.0 131.2,117.1 131.3,116.1 131.4,115.1 131.4,114.1 131.5,113.1 131.6,112.1 131.7,111.1 131.7,110.0 131.8,109.0 131.9,108.0 132.0,107.0 132.1,106.2 132.1,104.9 132.2,104.2 132.3,102.4 132.4,101.6 132.5,101.3 132.5,100.0 132.6,99.1 132.7,97.7 132.8,97.2 132.9,96.3 133.0,95.4 133.0,93.9 133.1,93.1 133.2,91.7 133.3,91.0 133.4,89.4 133.5,88.9 133.6,88.0 133.7,86.8 133.8,86.2 133.9,84.8 134.0,84.3 134.2,82.7 134.3,81.4 134.4,80.5 134.5,80.6 134.6,78.5 134.7,77.5 134.8,76.6 135.0,76.0 135.1,74.5 135.2,74.5 135.4,72.4 135.5,72.0 135.7,70.6 135.9,69.2 136.1,68.6 136.3,66.9 136.5,66.2 136.6,65.0 136.8,63.9 137.0,63.0 137.1,62.5 137.3,62.4 137.6,60.6 137.9,59.8 138.1,58.3 138.4,57.6 138.6,56.8 138.8,55.8 139.3,54.4 139.8,53.7 140.2,54.1 140.9,55.0 141.2,56.1 141.5,57.5 141.9,57.5 142.2,58.7 142.6,59.8 143.1,61.0 143.5,62.1 143.9,63.2 144.3,63.9 144.8,64.9 145.2,65.8 145.7,66.6 146.1,67.7 146.6,68.9 147.0,69.8 147.6,70.9 148.2,71.8 148.8,73.1 149.3,73.8 150.0,74.5 150.7,75.9 151.6,76.0 152.4,76.6 153.2,77.2 154.0,76.9 155.2,78.0 156.3,78.9 157.5,79.4 158.3,79.0 159.2,78.7 160.1,78.3 161.1,77.8 162.0,76.9 163.0,76.5 164.0,75.7 165.0,74.4 166.1,72.9 167.0,73.5 167.9,74.4 168.7,74.9 169.4,76.4 170.2,76.7 171.0,78.0 171.6,78.9 172.1,79.3 172.7,80.3 173.2,81.2 173.8,82.4 174.4,83.5 175.0,84.2 175.6,84.5 176.1,86.1 176.7,86.9 177.3,88.0 177.9,88.2 178.6,89.3 179.3,89.8 180.0,90.7 180.8,91.9 181.6,92.7 182.5,93.7 183.4,93.8 184.4,95.0 185.3,95.2 186.2,95.7 187.0,95.8 187.9,95.6 188.8,95.3 189.6,94.1 190.4,93.8 191.2,93.1 192.1,92.2 193.0,91.1 193.6,90.3 194.2,90.6 194.8,89.6 195.3,88.6 195.9,88.1 196.6,87.0 197.3,85.9 198.1,85.4 199.0,84.4 200.0,83.5 200.6,83.0 201.2,82.2 201.9,81.5 202.6,81.1 203.4,80.3 204.1,79.6 204.9,79.2 205.8,78.4 206.6,78.0 207.4,76.7 208.3,76.1 209.1,75.3 210.0,74.2 210.8,74.0 211.7,73.4 212.5,72.4 213.4,72.3 214.2,71.7 215.0,71.7 215.9,70.4 216.8,69.6 217.6,68.9 218.5,68.2 219.4,67.6 220.3,66.7 221.2,66.7 222.1,66.1 222.9,65.6 223.8,65.2 224.7,64.3 225.6,64.5 226.5,64.3 227.4,64.2 228.2,63.5 229.1,63.0 230.0,62.7 231.0,62.0 232.0,63.0 233.0,62.9 234.1,63.5 235.1,63.8 236.1,64.0 237.2,63.8 238.2,63.8 239.2,64.7 240.2,65.0 241.2,65.4 242.2,66.0 243.2,65.8 244.1,66.8 245.0,66.8 246.1,67.2 247.2,67.5 248.2,67.4 249.3,67.3 250.3,67.8 251.2,67.9 252.2,68.4 253.2,68.5 254.1,68.6 255.1,69.3 256.0,69.3 257.0,69.1 258.0,68.8 259.0,68.7 260.0,69.1 261.0,69.1 262.0,69.4 263.0,69.0 264.0,69.3 265.0,68.8 266.0,69.1 267.0,69.6 268.0,69.1 268.9,68.9 269.8,68.3 270.7,67.8 271.6,67.7 272.5,67.7 273.4,67.1 274.4,66.8 275.4,66.6 276.4,66.3 277.5,66.1 278.7,66.3 280.0,65.3 280.8,65.0 281.7,65.1 282.7,64.1 283.6,63.8 284.7,63.8 285.7,63.7 286.8,63.8 287.9,63.7 289.0,63.1 290.1,62.7 291.2,62.3 292.3,62.1 293.4,62.2 294.5,62.4 295.5,61.9 296.5,61.8 297.5,61.4 298.4,60.7 299.2,60.4 300.0,60.5 301.4,60.1 302.6,60.4 303.7,59.7 304.7,59.7 305.6,59.4 306.5,60.1 307.3,59.7 308.2,59.9 309.0,59.3 310.0,59.8 311.0,59.5 312.0,59.6 313.0,60.1 314.0,59.9 315.0,60.2 316.0,60.3 317.0,60.2 318.0,60.6 319.0,60.6 320.0,61.0 321.0,61.1 321.9,60.8 322.8,61.0 323.8,61.3 324.7,61.7 325.6,61.1 326.6,61.5 327.7,61.8 328.8,61.6 330.0,61.7 330.9,61.8 331.7,61.2 332.7,61.7 333.6,61.2 334.6,61.0 335.6,61.6 336.7,61.7 337.7,61.6 338.8,61.1 339.8,61.0 340.9,60.9 341.9,61.2 343.0,61.0 344.0,60.9 345.0,60.1 346.0,59.9 347.0,59.4 348.0,59.6 348.9,60.0 349.9,60.2 350.9,60.4 351.9,60.6 352.9,60.7 353.9,59.9 354.9,60.4 355.9,60.0 356.9,59.9 357.9,59.5 358.9,59.8 360.0,60.0 361.0,59.7 362.0,60.1 363.1,59.8 364.2,59.3 365.4,59.5 366.5,59.5 367.7,59.5 368.9,59.3 370.0,59.8 371.1,59.1 372.2,58.4 373.2,59.0 374.1,59.3 375.0,60.0 375.8,58.8 376.4,58.6 377.0,58.6" fill="none" stroke="#cd5f52" stroke-width="2.6" stroke-linejoin="round" stroke-linecap="butt"/>
<path d="M103.5,255.7 104.3,255.2 105.5,254.5 106.3,253.9 107.1,253.3 108.0,252.3 108.5,251.6 109.0,250.7 109.5,249.8 110.0,248.8 110.5,247.6 110.8,246.8 111.2,246.0 111.5,245.1 111.9,244.1 112.2,243.2 112.6,242.1 113.0,241.1 113.3,240.0 113.6,239.1 113.8,238.2 114.1,237.2 114.4,236.2 114.7,235.2 114.9,234.1 115.2,233.1 115.5,232.0 115.7,231.0 116.0,230.0 116.3,229.0 116.6,228.1 116.8,227.2 117.1,226.2 117.4,225.3 117.7,224.4 118.0,223.4 118.3,222.3 118.5,221.2 118.8,220.0 119.0,219.1 119.1,218.3 119.3,217.3 119.5,216.4 119.6,215.4 119.8,214.4 119.9,213.3 120.1,212.3 120.3,211.2 120.4,210.2 120.6,209.1 120.7,208.1 120.9,207.0 121.0,206.0 121.2,205.0 121.4,204.0 121.5,203.0 121.7,202.0 121.8,201.0 122.0,200.0 122.2,199.0 122.3,198.0 122.5,197.0 122.7,196.0 122.8,195.0 123.0,194.0 123.1,193.0 123.3,192.0 123.4,191.0 123.6,190.0 123.8,189.0 123.9,188.0 124.1,187.0 124.2,186.0 124.4,185.0 124.5,184.0 124.6,183.0 124.8,182.0 124.9,181.0 125.1,180.0 125.2,179.0 125.4,178.0 125.5,177.0 125.7,176.0 125.8,175.0 125.9,174.0 126.1,173.0 126.2,172.0 126.4,171.1 126.5,170.1 126.7,169.1 126.8,168.2 127.0,167.2 127.1,166.2 127.3,165.2 127.4,164.2 127.5,163.2 127.7,162.2 127.8,161.1 127.9,160.0 128.0,159.1 128.1,158.1 128.2,157.2 128.3,156.2 128.3,155.2 128.4,154.2 128.5,153.2 128.6,152.2 128.7,151.1 128.7,150.1 128.8,149.1 128.9,148.0 128.9,147.0 129.0,146.0 129.1,145.0 129.2,144.0 129.2,143.0 129.3,142.0 129.4,141.0 129.5,140.0 129.5,138.9 129.6,137.9 129.7,136.9 129.8,135.9 129.8,134.9 129.9,133.9 130.0,132.9 130.1,132.0 130.1,131.0 130.2,130.0 130.3,129.0 130.4,128.0 130.4,127.0 130.5,126.0 130.6,125.0 130.7,124.0 130.8,123.0 130.8,122.0 130.9,121.0 131.0,120.0 131.0,119.0 131.1,118.0 131.2,117.1 131.3,116.1 131.3,115.1 131.4,114.1 131.5,113.1 131.6,112.1 131.7,111.1 131.7,110.0 131.8,109.0 131.9,108.0 132.0,107.0 132.1,105.9 132.1,104.3 132.2,104.5 132.3,103.2 132.4,102.1 132.5,100.8 132.6,100.0 132.7,98.4 132.8,97.9 132.8,97.5 132.9,95.8 133.0,95.0 133.1,93.6 133.2,92.3 133.3,91.7 133.4,90.6 133.5,89.7 133.6,88.8 133.8,87.7 133.9,87.0 134.0,86.0 134.2,84.8 134.3,83.7 134.4,82.4 134.6,81.5 134.7,80.6 134.8,79.7 135.0,78.6 135.1,78.0 135.3,77.4 135.4,75.8 135.6,74.9 135.8,73.5 136.0,72.3 136.1,71.3 136.3,70.5 136.5,69.6 136.7,68.7 136.9,67.6 137.1,66.9 137.2,66.0 137.4,65.0 137.7,63.6 138.0,62.5 138.3,61.7 138.6,60.9 138.8,60.2 139.3,58.0 139.8,57.7 140.2,57.9 140.9,59.2 141.2,60.2 141.5,60.9 141.9,61.7 142.2,62.5 142.6,63.7 143.1,64.6 143.5,65.3 143.9,66.6 144.3,67.7 144.8,68.5 145.2,69.7 145.7,70.9 146.1,72.1 146.6,73.4 147.0,74.3 147.6,75.2 148.2,75.9 148.8,77.0 149.3,77.7 150.0,78.9 150.7,79.7 151.6,80.9 152.4,81.2 153.2,82.4 154.0,83.2 154.9,83.7 155.7,85.0 156.6,85.2 157.5,85.2 158.3,85.1 159.2,84.5 160.1,84.3 161.1,83.4 162.0,83.2 162.8,82.6 163.7,81.4 164.5,80.9 165.4,80.0 166.2,79.6 167.0,79.5 167.9,79.9 168.7,80.9 169.4,81.6 170.2,82.5 171.0,83.7 171.7,84.2 172.3,84.9 172.9,85.8 173.6,86.8 174.3,86.8 175.0,87.8 175.6,88.8 176.1,89.4 176.7,90.4 177.3,90.7 177.9,92.1 178.6,92.7 179.3,93.7 180.0,94.4 180.8,95.3 181.6,96.3 182.5,96.3 183.4,96.9 184.4,97.5 185.3,98.1 186.2,98.3 187.0,98.7 187.9,98.3 188.8,97.9 189.6,97.5 190.4,96.6 191.2,95.7 192.1,95.5 193.0,94.7 193.6,93.8 194.1,93.8 194.6,93.0 195.1,91.9 195.7,91.8 196.2,90.3 196.8,89.6 197.5,88.9 198.2,87.8 199.1,87.1 200.0,85.9 200.6,85.5 201.2,84.1 201.9,84.0 202.6,83.2 203.4,83.1 204.1,82.1 204.9,81.3 205.8,80.9 206.6,80.4 207.4,79.5 208.3,78.2 209.1,77.7 210.0,77.2 210.8,76.1 211.7,75.9 212.5,75.1 213.4,74.6 214.2,74.0 215.0,72.8 215.9,72.2 216.8,71.6 217.6,70.9 218.5,70.2 219.4,69.8 220.3,69.1 221.2,68.6 222.1,67.9 222.9,67.8 223.8,67.3 224.7,66.3 225.6,65.7 226.5,65.1 227.4,64.5 228.2,64.8 229.1,64.4 230.0,64.0 231.0,64.7 232.0,64.1 233.0,64.3 234.1,64.3 235.1,64.6 236.1,64.5 237.2,65.1 238.2,65.6 239.2,65.3 240.2,65.5 241.2,66.2 242.2,67.0 243.2,67.3 244.1,68.1 245.0,68.4 246.1,67.7 247.2,68.1 248.2,68.4 249.3,68.7 250.3,68.5 251.2,69.2 252.2,68.9 253.2,69.5 254.1,69.7 255.1,69.8 256.0,69.7 257.0,69.6 258.0,70.2 259.0,70.3 260.0,70.3 261.0,70.1 262.0,70.1 263.0,69.9 264.0,70.2 265.0,70.1 266.0,69.9 267.0,69.8 268.0,69.1 268.9,68.8 269.8,69.0 270.7,69.1 271.6,68.5 272.5,68.4 273.4,68.4 274.4,67.4 275.4,67.3 276.4,66.8 277.5,66.9 278.7,66.8 280.0,66.3 280.8,66.3 281.7,65.4 282.7,65.7 283.6,64.5 284.7,64.3 285.7,64.4 286.8,64.3 287.9,63.8 289.0,63.6 290.1,63.9 291.2,64.2 292.3,63.6 293.4,63.3 294.5,62.6 295.5,62.2 296.5,61.9 297.5,61.8 298.4,61.8 299.2,61.5 300.0,61.6 301.4,61.0 302.6,61.2 303.7,61.1 304.7,60.9 305.6,61.1 306.5,61.2 307.3,61.3 308.2,60.9 309.0,60.3 310.0,60.6 311.0,60.8 312.0,61.0 313.0,60.7 314.0,61.1 315.0,61.6 316.0,61.9 317.0,61.3 318.0,61.2 319.0,61.6 320.0,61.9 321.0,62.0 321.9,62.3 322.8,62.0 323.8,62.6 324.7,62.3 325.6,63.2 326.6,63.0 327.7,63.2 328.8,62.8 330.0,63.3 330.9,62.8 331.7,63.0 332.7,62.6 333.6,62.9 334.6,62.2 335.6,61.9 336.7,62.0 337.7,62.2 338.8,61.8 339.8,62.5 340.9,61.9 341.9,61.9 343.0,62.1 344.0,62.0 345.0,62.0 346.0,61.4 347.0,61.5 348.0,61.4 348.9,61.2 349.9,61.4 350.9,61.4 351.9,62.0 352.9,61.6 353.9,61.0 354.9,61.2 355.9,61.0 356.9,61.1 357.9,60.6 358.9,59.9 360.0,60.8 361.0,60.8 362.0,60.2 363.1,60.1 364.2,60.0 365.4,60.4 366.5,59.9 367.7,59.9 368.9,60.4 370.0,60.0 371.1,60.1 372.2,60.6 373.2,60.5 374.1,59.7 375.0,60.0 375.8,60.0 376.4,60.1 377.0,60.2" fill="none" stroke="#bd2626" stroke-width="2.6" stroke-linejoin="round" stroke-linecap="butt"/>
<path d="M103.5,255.7 104.3,255.2 105.5,254.5 106.3,253.9 107.1,253.3 108.0,252.3 108.5,251.6 109.0,250.7 109.5,249.8 110.0,248.8 110.5,247.6 110.8,246.8 111.2,246.0 111.5,245.1 111.9,244.1 112.2,243.2 112.6,242.1 113.0,241.1 113.3,240.0 113.6,239.1 113.8,238.2 114.1,237.2 114.4,236.2 114.7,235.2 114.9,234.1 115.2,233.1 115.5,232.0 115.7,231.0 116.0,230.0 116.3,229.0 116.6,228.1 116.8,227.2 117.1,226.2 117.4,225.3 117.7,224.4 118.0,223.4 118.3,222.3 118.5,221.2 118.8,220.0 119.0,219.1 119.1,218.3 119.3,217.3 119.5,216.4 119.6,215.4 119.8,214.4 119.9,213.3 120.1,212.3 120.3,211.2 120.4,210.2 120.6,209.1 120.7,208.1 120.9,207.0 121.0,206.0 121.2,205.0 121.4,204.0 121.5,203.0 121.7,202.0 121.8,201.0 122.0,200.0 122.2,199.0 122.3,198.0 122.5,197.0 122.7,196.0 122.8,195.0 123.0,194.0 123.1,193.0 123.3,192.0 123.4,191.0 123.6,190.0 123.8,189.0 123.9,188.0 124.1,187.0 124.2,186.0 124.4,185.0 124.5,184.0 124.6,183.0 124.8,182.0 124.9,181.0 125.1,180.0 125.2,179.0 125.4,178.0 125.5,177.0 125.7,176.0 125.8,175.0 125.9,174.0 126.1,173.0 126.2,172.0 126.4,171.1 126.5,170.1 126.7,169.1 126.8,168.2 127.0,167.2 127.1,166.2 127.3,165.2 127.4,164.2 127.5,163.2 127.7,162.2 127.8,161.1 127.9,160.0 128.0,159.1 128.1,158.1 128.2,157.2 128.3,156.2 128.3,155.2 128.4,154.2 128.5,153.2 128.6,152.2 128.7,151.1 128.7,150.1 128.8,149.1 128.9,148.0 128.9,147.0 129.0,146.0 129.1,145.0 129.2,144.0 129.2,143.0 129.3,142.0 129.4,141.0 129.5,140.0 129.5,138.9 129.6,137.9 129.7,136.9 129.8,135.9 129.8,134.9 129.9,133.9 130.0,132.9 130.1,132.0 130.1,131.0 130.2,130.0 130.3,129.0 130.4,128.0 130.4,127.0 130.5,126.0 130.6,125.0 130.7,124.0 130.8,123.0 130.8,122.0 130.9,121.0 131.0,120.0 131.0,119.0 131.1,118.0 131.2,116.9 131.3,115.9 131.3,114.9 131.4,113.9 131.5,112.9 131.6,111.9 131.7,110.9 131.7,110.0 131.8,109.0 131.9,108.0 132.0,107.0 132.1,105.9 132.2,105.2 132.3,104.2 132.4,102.8 132.5,101.6 132.6,100.6 132.7,100.1 132.8,99.4 132.9,97.9 133.0,96.5 133.1,95.3 133.2,94.4 133.3,93.8 133.4,92.8 133.5,91.9 133.7,90.9 133.8,89.3 134.0,88.2 134.2,87.4 134.4,86.3 134.6,85.4 134.7,84.6 134.9,83.8 135.1,83.0 135.3,82.1 135.5,81.2 135.8,79.9 136.1,78.8 136.4,77.6 136.6,76.2 136.9,74.9 137.2,73.9 137.5,73.1 137.7,72.6 138.4,70.9 138.9,69.6 139.8,68.6 140.8,69.8 141.1,70.8 141.4,71.7 141.8,72.9 142.2,74.3 142.6,74.9 143.1,75.8 143.5,77.2 144.2,77.8 144.9,79.1 145.6,79.6 146.3,80.2 147.0,80.6 147.8,81.2 148.5,82.3 149.2,83.3 150.0,83.9 150.6,84.5 151.3,85.6 151.9,86.1 152.6,86.9 153.3,87.6 154.0,88.4 155.0,89.2 155.9,89.6 156.9,90.8 158.0,90.4 158.9,90.5 159.9,89.9 161.0,89.2 162.0,88.2 163.0,87.8 164.0,87.4 165.0,86.7 166.1,86.9 167.1,86.3 168.0,86.0 168.9,87.1 169.7,87.2 170.4,88.3 171.2,88.5 172.0,89.8 172.8,90.0 173.6,90.7 174.4,91.8 175.2,92.3 176.0,93.5 176.7,94.6 177.3,95.1 177.9,95.8 178.6,96.8 179.3,97.7 180.0,98.6 180.6,99.4 181.3,100.3 182.0,101.2 182.7,102.4 183.4,103.3 184.2,103.7 185.0,104.4 185.8,104.3 186.6,104.0 187.4,103.2 188.3,102.3 189.2,101.7 190.1,100.9 191.1,100.3 192.0,100.0 192.7,99.5 193.4,98.9 194.1,97.7 194.8,97.4 195.5,96.9 196.2,96.4 197.1,95.5 197.9,94.8 198.9,93.8 200.0,92.9 200.6,92.6 201.2,91.8 201.9,90.7 202.6,90.3 203.3,89.2 204.0,88.7 204.7,88.2 205.5,87.2 206.3,86.1 207.1,85.2 207.9,84.3 208.7,83.9 209.5,83.0 210.3,82.4 211.1,81.8 211.9,80.7 212.7,79.8 213.5,79.1 214.2,78.6 215.0,77.8 215.9,77.5 216.8,77.0 217.6,75.6 218.5,75.0 219.4,74.5 220.3,74.2 221.2,73.4 222.1,73.0 222.9,72.2 223.8,72.0 224.7,71.4 225.6,70.9 226.5,70.7 227.4,70.1 228.2,70.1 229.1,69.8 230.0,69.5 231.0,69.2 232.0,69.2 233.1,69.4 234.1,69.1 235.2,70.0 236.2,69.8 237.3,69.9 238.3,70.1 239.4,70.4 240.4,70.5 241.4,71.0 242.3,71.4 243.3,71.8 244.1,71.8 245.0,72.1 246.2,72.4 247.3,72.6 248.4,72.8 249.4,73.0 250.3,72.9 251.2,73.2 252.2,73.7 253.1,73.7 254.0,74.1 255.0,73.9 256.0,73.9 257.0,73.5 258.0,74.0 259.0,73.8 260.0,73.5 261.0,73.4 262.0,73.6 263.0,73.5 264.0,73.4 265.0,73.1 266.0,72.9 266.9,73.0 267.8,72.9 268.8,72.3 269.7,71.7 270.6,71.3 271.6,71.0 272.7,70.4 273.8,70.3 275.0,69.8 275.8,69.7 276.7,69.3 277.6,69.0 278.5,68.6 279.5,68.2 280.5,67.5 281.5,67.2 282.5,66.4 283.5,66.2 284.5,65.5 285.5,65.6 286.5,65.4 287.4,65.2 288.3,64.9 289.2,63.9 290.0,63.8 291.2,63.4 292.3,63.2 293.4,62.9 294.4,62.7 295.3,63.0 296.2,62.9 297.2,62.8 298.1,63.0 299.0,63.2 300.0,63.0 301.0,62.6 302.0,62.5 303.0,61.9 304.0,61.9 305.0,62.2 306.0,62.2 307.0,62.0 308.0,62.1 309.0,62.1 310.0,62.0 311.0,61.9 312.0,62.0 313.0,62.1 314.0,62.5 315.0,62.0 316.0,62.5 317.0,62.6 318.0,63.2 319.0,62.9 320.0,63.0 321.0,63.3 321.9,63.4 322.8,63.5 323.8,63.4 324.7,63.3 325.6,63.2 326.6,63.1 327.7,63.6 328.8,63.6 330.0,63.7 330.9,63.2 331.7,63.3 332.7,63.9 333.6,63.6 334.6,63.5 335.6,63.4 336.7,63.2 337.7,63.0 338.8,63.5 339.8,63.6 340.9,63.3 341.9,62.9 343.0,63.1 344.0,62.9 345.0,63.1 346.0,62.9 347.0,63.0 348.0,62.4 348.9,62.6 349.9,62.9 350.9,62.5 351.9,62.5 352.9,62.7 353.9,62.0 354.9,62.1 355.9,62.0 356.9,62.0 357.9,62.3 358.9,61.9 360.0,62.1 361.0,61.8 362.0,61.5 363.1,61.7 364.2,61.7 365.4,61.1 366.5,61.3 367.7,61.2 368.9,61.2 370.0,61.4 371.1,61.3 372.2,61.2 373.2,61.0 374.1,61.0 375.0,61.0 375.8,61.2 376.4,60.9 377.0,60.6" fill="none" stroke="#9a4312" stroke-width="2.6" stroke-linejoin="round" stroke-linecap="butt"/>
<path d="M103.5,255.7 104.3,255.2 105.5,254.5 106.3,253.9 107.1,253.3 108.0,252.3 108.5,251.6 109.0,250.7 109.5,249.8 110.0,248.8 110.5,247.6 110.8,246.8 111.2,246.0 111.5,245.1 111.9,244.1 112.2,243.2 112.6,242.1 113.0,241.1 113.3,240.0 113.6,239.1 113.8,238.2 114.1,237.2 114.4,236.2 114.7,235.2 114.9,234.1 115.2,233.1 115.5,232.0 115.7,231.0 116.0,230.0 116.3,229.0 116.6,228.1 116.8,227.2 117.1,226.2 117.4,225.3 117.7,224.4 118.0,223.4 118.3,222.3 118.5,221.2 118.8,220.0 119.0,219.1 119.1,218.3 119.3,217.3 119.5,216.4 119.6,215.4 119.8,214.4 119.9,213.3 120.1,212.3 120.3,211.2 120.4,210.2 120.6,209.1 120.7,208.1 120.9,207.0 121.0,206.0 121.2,205.0 121.4,204.0 121.5,203.0 121.7,202.0 121.8,201.0 122.0,200.0 122.2,199.0 122.3,198.0 122.5,197.0 122.7,196.0 122.8,195.0 123.0,194.0 123.1,193.0 123.3,192.0 123.4,191.0 123.6,190.0 123.8,189.0 123.9,188.0 124.1,187.0 124.2,186.0 124.4,185.0 124.5,184.0 124.6,183.0 124.8,182.0 124.9,181.0 125.1,180.0 125.2,179.0 125.4,178.0 125.5,177.0 125.7,176.0 125.8,175.0 125.9,174.0 126.1,173.0 126.2,172.0 126.4,171.1 126.5,170.1 126.7,169.1 126.8,168.2 127.0,167.2 127.1,166.2 127.3,165.2 127.4,164.2 127.5,163.2 127.7,162.2 127.8,161.1 127.9,160.0 128.0,159.1 128.1,158.1 128.2,157.2 128.3,156.2 128.3,155.2 128.4,154.2 128.5,153.2 128.6,152.2 128.7,151.1 128.7,150.1 128.8,149.1 128.9,148.0 128.9,147.0 129.0,146.0 129.1,145.0 129.2,144.0 129.2,143.0 129.3,142.0 129.4,141.0 129.5,140.0 129.5,138.9 129.6,137.9 129.7,136.9 129.8,135.9 129.8,134.9 129.9,133.9 130.0,132.9 130.1,132.0 130.1,131.0 130.2,130.0 130.3,129.0 130.4,128.0 130.4,127.0 130.5,126.0 130.6,125.0 130.7,124.0 130.8,123.0 130.8,121.9 130.9,120.9 131.0,119.8 131.1,118.8 131.2,117.8 131.2,116.7 131.3,115.7 131.4,114.6 131.5,113.6 131.6,112.6 131.6,111.7 131.7,110.7 131.8,109.8 131.9,108.9 132.0,108.3 132.1,107.2 132.3,106.0 132.4,104.6 132.5,103.5 132.7,102.7 132.8,101.7 132.9,100.7 133.1,99.8 133.2,99.2 133.4,98.0 133.5,97.1 133.7,96.5 133.9,94.9 134.1,94.0 134.4,92.9 134.6,92.0 134.8,90.8 135.1,89.5 135.3,88.4 135.5,87.6 135.8,86.8 136.0,85.9 136.3,84.4 136.6,83.3 136.9,82.5 137.2,81.4 137.5,79.9 137.8,79.6 138.0,78.9 138.6,77.6 139.1,76.8 139.8,76.6 140.7,77.6 141.0,77.9 141.5,79.2 141.9,80.5 142.4,81.5 143.0,82.2 143.5,83.6 144.3,84.4 145.2,85.2 146.1,85.4 147.0,85.8 148.0,86.7 148.9,87.3 150.0,88.1 150.6,88.8 151.3,90.1 151.9,90.9 152.6,91.7 153.3,92.0 154.0,93.0 155.0,94.0 155.9,94.7 156.9,95.3 158.0,94.8 158.9,94.4 159.9,94.1 161.0,93.5 162.0,93.1 163.0,92.4 164.0,91.4 165.0,90.6 166.1,90.0 167.1,89.4 168.0,89.1 168.9,89.8 169.7,90.2 170.4,90.7 171.2,91.6 172.0,92.6 172.7,93.1 173.3,94.0 174.0,94.8 174.7,95.7 175.3,96.6 176.0,97.1 176.7,97.7 177.3,98.5 178.0,99.4 178.6,100.0 179.3,100.7 180.0,101.8 180.7,102.5 181.4,103.3 182.1,104.5 182.8,105.3 183.6,106.1 184.5,106.1 185.2,106.1 185.9,105.8 186.7,105.0 187.5,104.4 188.3,103.8 189.2,103.0 190.1,102.2 191.0,101.0 191.6,100.6 192.2,99.9 192.8,99.1 193.4,98.5 194.0,97.7 194.6,96.9 195.3,96.5 196.0,95.4 196.7,94.9 197.5,93.9 198.3,92.6 199.1,91.9 200.0,90.9 200.6,90.3 201.2,89.4 201.8,89.0 202.5,88.7 203.2,88.0 203.8,87.0 204.6,86.1 205.3,85.6 206.0,84.8 206.8,83.8 207.5,82.9 208.3,82.5 209.0,81.8 209.8,80.8 210.5,80.1 211.3,79.1 212.1,78.5 212.8,77.9 213.5,77.2 214.3,76.9 215.0,76.2 215.8,75.6 216.7,74.7 217.5,74.0 218.3,73.0 219.2,72.5 220.0,72.0 220.8,71.0 221.7,70.7 222.5,69.8 223.3,69.0 224.2,68.3 225.0,68.1 225.8,67.6 226.7,67.0 227.5,66.8 228.3,66.2 229.2,66.1 230.0,65.6 231.0,65.4 232.0,65.2 233.0,65.4 234.1,64.8 235.1,65.4 236.1,65.5 237.2,65.8 238.2,66.7 239.2,66.7 240.2,66.8 241.2,67.2 242.2,67.6 243.2,67.9 244.1,67.9 245.0,68.3 246.1,68.6 247.2,69.2 248.3,69.1 249.3,69.3 250.4,69.4 251.4,69.7 252.4,69.7 253.3,70.0 254.3,69.9 255.2,69.8 256.1,70.5 257.0,70.2 258.1,70.7 259.2,70.4 260.2,70.1 261.2,70.5 262.2,69.8 263.1,69.9 264.1,69.7 265.0,69.2 266.0,69.0 267.0,68.7 267.9,68.0 268.8,68.3 269.7,67.6 270.6,67.1 271.6,67.1 272.6,66.8 273.7,66.1 275.0,65.7 275.8,65.2 276.6,65.1 277.5,64.6 278.4,64.0 279.4,63.7 280.4,63.5 281.4,63.2 282.4,62.6 283.5,61.9 284.5,62.0 285.5,61.3 286.5,61.1 287.4,60.8 288.3,60.2 289.2,59.9 290.0,59.9 291.2,59.2 292.3,58.7 293.4,58.8 294.4,58.2 295.3,57.7 296.2,57.9 297.2,57.5 298.1,57.2 299.0,57.2 300.0,57.2 301.0,57.1 302.0,56.9 303.0,56.5 304.0,56.8 305.0,56.8 306.0,56.7 307.0,56.7 308.0,56.6 309.0,56.4 310.0,56.4 311.0,56.9 312.0,56.8 313.0,56.7 314.0,56.7 315.0,56.9 316.0,57.1 317.0,57.4 318.0,57.4 319.0,57.6 320.0,58.1 321.0,57.9 321.9,57.7 322.8,57.8 323.8,57.5 324.7,57.8 325.6,58.3 326.6,58.5 327.7,58.3 328.8,58.3 330.0,58.4 330.9,58.2 331.7,58.3 332.7,58.1 333.6,58.3 334.6,58.3 335.6,58.3 336.7,58.3 337.7,57.6 338.8,57.9 339.8,57.5 340.9,57.7 341.9,57.5 343.0,57.7 344.0,57.4 345.0,57.3 346.0,57.2 347.0,57.1 348.0,57.0 348.9,57.1 349.9,57.0 350.9,57.1 351.9,56.4 352.9,56.8 353.9,57.0 354.9,56.8 355.9,56.5 356.9,56.2 357.9,56.6 358.9,56.3 360.0,56.5 361.0,56.6 362.0,56.3 363.1,56.3 364.2,56.3 365.4,56.4 366.5,56.1 367.7,56.1 368.9,55.8 370.0,55.9 371.1,55.6 372.2,55.6 373.2,55.7 374.1,55.9 375.0,56.0 375.8,55.8 376.4,55.7 377.0,55.4" fill="none" stroke="#870000" stroke-width="2.6" stroke-linejoin="round" stroke-linecap="butt"/></g>
<g><line x1="463.3" y1="255.6" x2="507.5" y2="255.6" stroke="#1a1a6e" stroke-width="2.4"/>
<path d="M506.5,255.6 507.0,255.3 508.1,254.8 509.5,254.0 510.3,253.3 511.2,252.4 512.0,251.0 512.3,250.3 512.7,249.4 513.0,248.5 513.3,247.6 513.6,246.5 513.9,245.3 514.2,244.0 514.4,243.2 514.6,242.3 514.7,241.4 514.9,240.5 515.1,239.5 515.2,238.5 515.4,237.5 515.6,236.4 515.8,235.3 515.9,234.2 516.1,233.1 516.3,232.0 516.4,231.1 516.6,230.2 516.7,229.2 516.9,228.2 517.0,227.2 517.2,226.2 517.3,225.2 517.5,224.2 517.6,223.1 517.8,222.1 517.9,221.1 518.1,220.0 518.2,219.0 518.4,218.0 518.5,217.0 518.6,216.0 518.8,215.1 518.9,214.1 519.1,213.2 519.2,212.3 519.4,211.3 519.5,210.4 519.7,209.5 519.8,208.5 520.0,207.5 520.1,206.5 520.3,205.4 520.4,204.4 520.6,203.2 520.7,202.0 520.8,201.1 520.9,200.3 521.0,199.4 521.1,198.5 521.2,197.5 521.3,196.6 521.4,195.6 521.5,194.6 521.6,193.6 521.7,192.6 521.8,191.6 521.9,190.6 522.0,189.6 522.1,188.5 522.2,187.5 522.3,186.4 522.5,185.3 522.6,184.3 522.7,183.2 522.8,182.1 522.9,181.1 523.0,180.0 523.1,179.1 523.2,178.1 523.3,177.2 523.4,176.2 523.5,175.2 523.6,174.3 523.7,173.3 523.8,172.3 523.9,171.3 524.0,170.3 524.1,169.3 524.2,168.3 524.3,167.3 524.5,166.3 524.6,165.3 524.7,164.3 524.8,163.3 524.9,162.2 525.0,161.2 525.1,160.2 525.2,159.1 525.3,158.1 525.4,157.1 525.5,156.0 525.6,155.0 525.7,154.0 525.8,153.1 525.9,152.1 526.0,151.1 526.1,150.1 526.1,149.2 526.2,148.2 526.3,147.2 526.4,146.2 526.5,145.2 526.6,144.2 526.7,143.2 526.8,142.2 526.9,141.2 527.0,140.2 527.0,139.2 527.1,138.2 527.2,137.1 527.3,136.1 527.4,135.1 527.5,134.1 527.6,133.1 527.7,132.1 527.7,131.1 527.8,130.0 527.9,129.0 528.0,128.0 528.1,127.0 528.2,126.0 528.3,125.0 528.3,124.0 528.4,123.0 528.5,122.0 528.6,121.0 528.7,120.0 528.8,119.0 528.8,118.0 528.9,116.9 529.0,115.9 529.1,114.9 529.2,113.9 529.2,112.9 529.3,111.8 529.4,110.8 529.5,109.8 529.6,108.8 529.7,107.8 529.7,106.8 529.8,105.8 529.9,104.8 530.0,103.9 530.1,102.9 530.1,101.9 530.2,101.0 530.3,100.0 530.4,98.9 530.5,97.9 530.6,96.8 530.7,95.8 530.7,94.7 530.8,93.6 530.9,92.6 531.0,91.6 531.1,90.5 531.2,89.5 531.3,88.4 531.4,87.4 531.4,86.4 531.5,85.4 531.6,84.4 531.7,83.4 531.8,82.4 531.9,81.4 532.0,80.5 532.1,79.5 532.1,78.6 532.2,77.7 532.3,76.8 532.4,75.9 532.5,75.0 532.6,73.8 532.8,72.6 532.9,71.5 533.0,70.3 533.1,69.2 533.3,68.1 533.4,67.1 533.5,66.0 533.7,65.0 533.8,64.0 533.9,63.0 534.1,62.5 534.2,61.4 534.3,60.1 534.5,58.8 534.6,58.5 534.7,57.0 534.8,57.1 535.0,55.6 535.1,54.3 535.2,53.1 535.4,51.8 535.5,51.5 535.7,50.5 535.8,50.3 535.9,47.9 536.0,47.9 536.2,46.1 536.3,45.4 536.4,43.4 536.5,43.6 536.7,41.1 536.9,40.6 537.1,40.0 537.2,39.3 537.4,38.9 537.5,38.3 537.9,36.4 538.3,34.5 538.9,35.2 539.5,36.2 539.8,37.3 540.0,39.2 540.3,39.8 540.6,39.3 541.0,41.9 541.2,43.3 541.4,43.8 541.7,45.6 542.0,44.9 542.2,45.7 542.5,47.7 542.8,46.7 543.0,46.8 543.3,50.2 543.5,51.2 543.7,54.0 544.0,55.2 544.2,56.2 544.4,57.3 544.6,57.1 544.8,57.5 545.0,60.1 545.3,61.0 545.5,60.4 545.9,61.9 546.4,64.5 546.8,66.2 547.3,66.5 547.8,66.4 548.5,67.4 549.2,67.0 550.1,65.3 551.0,64.3 551.5,63.7 552.1,63.7 552.8,61.7 553.5,60.2 554.1,59.0 554.8,58.7 555.4,58.0 556.0,55.3 556.9,55.0 557.7,54.8 558.4,53.8 559.2,54.0 560.0,53.2 561.0,53.4 562.0,52.7 563.0,51.9 564.2,52.1 565.1,52.8 566.0,52.5 567.1,53.0 568.1,53.8 569.1,56.2 570.0,55.9 570.8,57.1 571.5,56.9 572.2,58.0 572.9,58.8 573.6,59.6 574.3,60.5 575.0,61.5 575.7,61.4 576.5,63.2 577.2,64.0 577.9,63.8 578.6,65.3 579.3,65.7 580.0,66.5 581.1,67.7 582.1,68.1 583.0,67.8 584.0,69.2 584.9,69.2 585.8,68.9 586.8,69.3 588.0,67.5 588.6,67.1 589.3,67.2 590.0,66.9 590.7,66.0 591.5,64.7 592.3,63.4 593.2,62.5 594.1,62.3 595.0,60.9 595.6,59.4 596.2,58.9 596.8,57.3 597.5,55.9 598.1,56.2 598.8,55.5 599.5,55.7 600.2,53.8 600.9,53.2 601.6,51.6 602.3,50.4 603.0,51.7 603.6,50.6 604.3,49.5 605.0,47.9 606.0,47.9 607.0,46.2 607.9,46.7 608.9,46.5 609.9,45.5 610.9,45.8 611.9,45.5 612.9,45.1 613.9,45.6 615.0,45.6 615.9,45.1 616.9,44.5 617.8,45.0 618.8,43.8 619.8,43.2 620.8,43.2 621.8,42.1 622.9,42.5 623.9,42.9 624.9,42.6 626.0,43.7 627.0,41.8 628.0,41.8 629.0,41.5 630.0,42.4 631.0,42.6 632.1,42.9 633.1,42.4 634.1,43.9 635.2,44.9 636.2,43.9 637.2,45.5 638.2,45.2 639.1,45.4 640.0,46.2 641.1,45.6 642.2,46.3 643.2,45.9 644.2,46.1 645.2,47.1 646.1,47.6 647.1,48.1 648.0,47.0 649.0,46.4 650.0,46.0 651.0,46.0 652.0,47.1 652.9,47.1 653.9,48.4 654.9,48.5 655.9,48.7 656.9,47.3 657.9,45.5 658.9,46.1 660.0,46.9 660.9,46.6 661.9,46.2 662.8,45.2 663.8,45.7 664.8,47.1 665.8,46.9 666.8,45.6 667.9,44.6 668.9,45.3 669.9,45.3 671.0,43.9 672.0,45.0 673.0,44.5 673.9,44.0 674.9,44.3 675.9,43.8 676.8,42.8 677.8,41.4 678.8,41.2 679.8,43.2 680.8,42.1 681.8,42.2 682.9,42.1 683.9,41.8 685.0,42.2 685.9,40.2 686.8,41.8 687.6,40.8 688.5,41.0 689.3,41.0 690.1,41.0 691.0,42.1 691.9,41.0 692.8,40.8 693.8,41.7 694.9,40.7 696.0,39.7 697.2,40.9 698.6,41.1 700.0,40.6 700.8,40.4 701.6,41.6 702.4,42.4 703.2,41.1 704.1,40.7 705.0,41.5 706.0,40.8 706.9,41.1 707.9,41.0 708.9,41.7 709.9,42.4 710.9,40.8 712.0,40.0 713.0,40.0 714.1,39.7 715.1,40.2 716.2,41.4 717.3,40.1 718.4,41.1 719.4,40.4 720.5,41.7 721.6,41.5 722.7,42.0 723.8,41.2 724.8,41.1 725.9,42.0 726.9,42.0 728.0,41.9 729.0,42.1 730.0,42.3 731.0,41.0 732.0,40.6 733.0,40.2 734.1,40.8 735.1,41.5 736.2,41.3 737.2,41.6 738.2,41.6 739.3,42.1 740.4,40.4 741.4,40.5 742.5,40.6 743.5,40.8 744.6,40.5 745.6,41.3 746.6,42.3 747.7,42.9 748.7,42.0 749.7,42.5 750.7,41.9 751.7,42.1 752.7,41.8 753.7,42.8 754.6,41.3 755.5,39.9 756.5,41.2 757.4,41.1 758.3,40.2 759.1,41.1 760.0,40.7 761.3,39.5 762.5,39.8 763.8,40.4 765.0,41.1 766.3,40.6 767.5,40.4 768.7,40.7 769.9,40.2 771.0,40.2 772.1,41.8 773.2,41.4 774.2,41.8 775.2,40.9 776.2,42.6 777.0,41.8 777.9,40.7 778.6,41.6 779.3,42.0 779.9,41.5 780.5,41.2" fill="none" stroke="#b0c4de" stroke-width="3.2" stroke-linejoin="round" stroke-linecap="butt"/>
<path d="M506.5,255.6 507.0,255.3 508.1,254.8 509.5,254.0 510.3,253.3 511.2,252.4 512.0,251.0 512.3,250.3 512.7,249.4 513.0,248.5 513.3,247.6 513.6,246.5 513.9,245.3 514.2,244.0 514.4,243.2 514.6,242.3 514.7,241.4 514.9,240.5 515.1,239.5 515.2,238.5 515.4,237.5 515.6,236.4 515.8,235.3 515.9,234.2 516.1,233.1 516.3,232.0 516.4,231.1 516.6,230.2 516.7,229.2 516.9,228.2 517.0,227.2 517.2,226.2 517.3,225.2 517.5,224.2 517.6,223.1 517.8,222.1 517.9,221.1 518.1,220.0 518.2,219.0 518.4,218.0 518.5,217.0 518.6,216.0 518.8,215.1 518.9,214.1 519.1,213.2 519.2,212.3 519.4,211.3 519.5,210.4 519.7,209.5 519.8,208.5 520.0,207.5 520.1,206.5 520.3,205.4 520.4,204.4 520.6,203.2 520.7,202.0 520.8,201.1 520.9,200.3 521.0,199.4 521.1,198.5 521.2,197.5 521.3,196.6 521.4,195.6 521.5,194.6 521.6,193.6 521.7,192.6 521.8,191.6 521.9,190.6 522.0,189.6 522.1,188.5 522.2,187.5 522.3,186.4 522.5,185.3 522.6,184.3 522.7,183.2 522.8,182.1 522.9,181.1 523.0,180.0 523.1,179.1 523.2,178.1 523.3,177.2 523.4,176.2 523.5,175.2 523.6,174.3 523.7,173.3 523.8,172.3 523.9,171.3 524.0,170.3 524.1,169.3 524.2,168.3 524.3,167.3 524.5,166.3 524.6,165.3 524.7,164.3 524.8,163.3 524.9,162.2 525.0,161.2 525.1,160.2 525.2,159.1 525.3,158.1 525.4,157.1 525.5,156.0 525.6,155.0 525.7,154.0 525.8,153.1 525.9,152.1 526.0,151.1 526.1,150.1 526.1,149.2 526.2,148.2 526.3,147.2 526.4,146.2 526.5,145.2 526.6,144.2 526.7,143.2 526.8,142.2 526.9,141.2 527.0,140.2 527.0,139.2 527.1,138.2 527.2,137.1 527.3,136.1 527.4,135.1 527.5,134.1 527.6,133.1 527.7,132.1 527.7,131.1 527.8,130.0 527.9,129.0 528.0,128.0 528.1,127.0 528.2,126.0 528.3,125.0 528.3,124.0 528.4,123.0 528.5,122.0 528.6,121.0 528.7,120.0 528.8,119.0 528.8,118.0 528.9,116.9 529.0,115.9 529.1,114.9 529.2,113.9 529.2,112.9 529.3,111.8 529.4,110.8 529.5,109.8 529.6,108.8 529.7,107.8 529.7,106.8 529.8,105.8 529.9,104.8 530.0,103.9 530.1,102.9 530.1,101.9 530.2,101.0 530.3,100.0 530.4,98.9 530.5,97.9 530.6,96.8 530.7,95.8 530.7,94.7 530.8,93.7 530.9,92.6 531.0,91.6 531.1,90.6 531.2,89.5 531.3,88.5 531.4,87.5 531.4,86.5 531.5,85.5 531.6,84.5 531.7,83.5 531.8,82.5 531.9,81.6 532.0,80.6 532.1,79.6 532.1,78.7 532.2,77.7 532.3,76.8 532.4,75.9 532.5,75.0 532.6,73.9 532.7,72.8 532.8,71.7 533.0,70.6 533.1,69.5 533.2,68.4 533.3,67.4 533.4,66.3 533.6,65.3 533.7,64.2 533.8,63.2 533.9,62.3 534.0,61.8 534.2,60.7 534.3,60.0 534.4,58.7 534.5,57.7 534.6,55.8 534.7,54.5 534.8,54.7 535.0,52.5 535.1,52.5 535.2,51.1 535.4,49.9 535.5,48.4 535.7,47.6 535.8,46.5 535.9,45.9 536.0,45.0 536.2,43.9 536.3,43.3 536.4,43.1 536.5,42.1 536.7,41.0 536.9,39.5 537.1,37.5 537.2,38.0 537.4,37.0 537.5,36.9 537.9,34.9 538.3,32.9 538.9,34.0 539.5,35.2 539.9,34.8 540.4,36.2 541.0,37.9 541.2,39.7 541.4,40.7 541.7,40.0 542.0,41.4 542.2,43.2 542.5,44.0 542.8,44.4 543.0,46.6 543.3,46.2 543.5,48.8 543.7,50.3 544.0,51.0 544.2,52.8 544.4,52.1 544.6,53.3 544.8,54.9 545.0,55.6 545.3,56.7 545.5,57.7 545.9,58.8 546.4,60.9 546.8,62.8 547.3,63.3 547.8,62.8 548.5,62.5 549.2,62.0 550.1,61.4 551.0,60.4 551.5,59.0 552.1,59.6 552.8,57.4 553.5,56.9 554.1,56.4 554.8,55.5 555.4,54.6 556.0,53.3 556.9,53.2 557.7,52.2 558.4,50.6 559.2,50.4 560.0,50.3 561.0,49.1 562.0,49.0 563.0,48.1 564.2,50.1 565.1,48.9 566.0,50.0 567.1,51.1 568.1,51.4 569.1,51.9 570.0,52.7 570.8,52.5 571.5,53.5 572.2,54.4 572.9,56.5 573.6,56.6 574.3,57.8 575.0,58.1 575.7,58.6 576.5,60.5 577.2,61.6 577.9,62.0 578.6,62.6 579.3,63.3 580.0,63.7 581.1,64.1 582.1,66.0 583.0,66.0 584.0,65.4 584.9,65.2 585.8,65.4 586.8,66.4 588.0,65.8 588.6,64.4 589.3,62.3 590.0,61.7 590.7,60.6 591.5,60.1 592.3,59.7 593.2,59.3 594.1,57.7 595.0,56.5 595.7,56.5 596.5,54.8 597.3,54.9 598.1,54.3 599.0,53.9 599.8,52.3 600.7,52.4 601.6,52.0 602.4,50.0 603.3,49.6 604.2,48.0 605.0,48.7 606.0,49.6 607.0,48.5 607.9,47.6 608.9,46.7 609.9,47.0 610.9,46.9 611.9,46.2 612.9,45.2 613.9,45.2 615.0,45.3 615.9,45.7 616.9,45.5 617.8,45.1 618.8,44.7 619.8,44.5 620.8,43.8 621.8,42.3 622.9,42.3 623.9,43.0 624.9,42.7 626.0,42.3 627.0,42.8 628.0,42.7 629.0,42.8 630.0,43.2 631.0,43.8 632.1,44.1 633.1,43.7 634.1,43.9 635.2,43.6 636.2,44.5 637.2,44.7 638.2,45.3 639.1,46.7 640.0,46.3 641.1,47.2 642.2,47.1 643.2,47.6 644.2,47.3 645.2,47.5 646.1,48.6 647.1,48.8 648.0,49.4 649.0,49.4 650.0,47.7 651.0,48.2 652.0,49.3 652.9,49.9 653.9,49.7 654.9,49.0 655.9,48.4 656.9,49.2 657.9,49.7 658.9,49.7 660.0,50.3 660.9,48.6 661.9,48.7 662.8,48.5 663.8,47.8 664.8,47.1 665.8,47.3 666.8,47.9 667.9,47.2 668.9,46.6 669.9,47.2 671.0,46.5 672.0,47.1 673.0,45.8 673.9,45.3 674.9,46.3 675.9,46.7 676.8,45.4 677.8,45.4 678.8,45.6 679.8,44.5 680.8,44.2 681.8,44.3 682.9,44.3 683.9,43.9 685.0,43.5 685.9,43.3 686.8,44.5 687.6,43.5 688.5,42.4 689.3,44.8 690.1,44.3 691.0,43.8 691.9,43.3 692.8,43.7 693.8,43.9 694.9,42.9 696.0,42.5 697.2,41.9 698.6,43.2 700.0,42.3 700.8,42.6 701.6,42.5 702.4,41.7 703.2,42.6 704.1,43.0 705.0,41.9 706.0,42.8 706.9,43.5 707.9,42.7 708.9,43.4 709.9,43.8 710.9,43.9 712.0,42.5 713.0,42.9 714.1,43.2 715.1,42.7 716.2,43.0 717.3,42.6 718.4,43.8 719.4,43.4 720.5,42.5 721.6,43.7 722.7,42.9 723.8,43.4 724.8,43.8 725.9,42.8 726.9,44.7 728.0,43.3 729.0,43.5 730.0,44.2 731.0,42.3 732.0,42.6 733.0,43.4 734.1,43.2 735.1,43.3 736.2,43.2 737.2,43.1 738.2,44.2 739.3,43.5 740.4,42.7 741.4,43.5 742.5,43.4 743.5,43.0 744.6,42.6 745.6,41.9 746.6,41.5 747.7,42.4 748.7,42.9 749.7,43.0 750.7,43.3 751.7,45.1 752.7,43.5 753.7,43.7 754.6,43.8 755.5,43.6 756.5,43.2 757.4,43.8 758.3,43.6 759.1,43.3 760.0,44.5 761.3,43.7 762.5,43.3 763.8,42.7 765.0,42.7 766.3,43.3 767.5,42.3 768.7,42.7 769.9,42.7 771.0,42.0 772.1,43.3 773.2,43.2 774.2,43.6 775.2,43.2 776.2,43.5 777.0,43.3 777.9,43.5 778.6,43.8 779.3,42.3 779.9,43.2 780.5,43.3" fill="none" stroke="#00ced1" stroke-width="3.2" stroke-linejoin="round" stroke-linecap="butt"/>
<path d="M506.5,255.6 507.0,255.3 508.1,254.8 509.5,254.0 510.4,253.3 511.2,252.4 512.0,251.0 512.4,250.3 512.7,249.4 513.0,248.5 513.3,247.6 513.6,246.5 514.0,245.3 514.3,244.0 514.5,243.2 514.6,242.3 514.8,241.4 515.0,240.5 515.2,239.5 515.4,238.5 515.5,237.5 515.7,236.4 515.9,235.3 516.1,234.2 516.3,233.1 516.4,232.0 516.6,231.1 516.7,230.2 516.9,229.2 517.0,228.2 517.2,227.2 517.4,226.2 517.5,225.2 517.7,224.2 517.8,223.1 518.0,222.1 518.1,221.1 518.3,220.0 518.4,219.0 518.6,218.0 518.7,217.0 518.9,216.0 519.0,215.1 519.2,214.1 519.3,213.2 519.5,212.3 519.6,211.3 519.8,210.4 519.9,209.5 520.1,208.5 520.2,207.5 520.4,206.5 520.5,205.4 520.7,204.4 520.8,203.2 521.0,202.0 521.1,201.1 521.2,200.3 521.3,199.4 521.4,198.5 521.5,197.5 521.6,196.6 521.7,195.6 521.8,194.6 521.9,193.6 522.0,192.6 522.1,191.6 522.2,190.6 522.3,189.6 522.4,188.5 522.5,187.5 522.7,186.4 522.8,185.3 522.9,184.3 523.0,183.2 523.1,182.1 523.2,181.1 523.3,180.0 523.4,179.1 523.5,178.1 523.6,177.2 523.7,176.2 523.8,175.2 523.9,174.3 524.0,173.3 524.1,172.3 524.2,171.3 524.3,170.3 524.4,169.3 524.5,168.3 524.6,167.3 524.8,166.3 524.9,165.3 525.0,164.3 525.1,163.3 525.2,162.2 525.3,161.2 525.4,160.2 525.5,159.1 525.6,158.1 525.7,157.1 525.8,156.0 525.9,155.0 526.0,154.0 526.1,153.1 526.2,152.1 526.3,151.1 526.4,150.1 526.4,149.2 526.5,148.2 526.6,147.2 526.7,146.2 526.8,145.2 526.9,144.2 527.0,143.2 527.1,142.2 527.2,141.2 527.3,140.2 527.3,139.2 527.4,138.2 527.5,137.1 527.6,136.1 527.7,135.1 527.8,134.1 527.9,133.1 528.0,132.1 528.0,131.1 528.1,130.0 528.2,129.0 528.3,128.0 528.4,127.0 528.5,126.0 528.6,125.0 528.6,124.0 528.7,123.0 528.8,122.0 528.9,121.0 529.0,120.0 529.1,118.9 529.1,117.9 529.2,116.9 529.3,115.9 529.4,114.8 529.5,113.8 529.6,112.8 529.6,111.8 529.7,110.8 529.8,109.7 529.9,108.7 530.0,107.7 530.0,106.7 530.1,105.8 530.2,104.8 530.3,103.8 530.4,102.8 530.4,101.9 530.5,100.9 530.6,100.0 530.7,98.9 530.8,97.8 530.9,96.8 530.9,95.7 531.0,94.7 531.1,93.6 531.2,92.6 531.3,91.6 531.4,90.5 531.4,89.5 531.5,88.5 531.6,87.5 531.7,86.5 531.8,85.5 531.8,84.5 531.9,83.6 532.0,82.6 532.1,81.6 532.2,80.7 532.3,79.7 532.3,78.8 532.4,77.8 532.5,76.9 532.6,76.0 532.7,74.9 532.8,73.8 532.9,72.7 533.1,71.6 533.2,70.5 533.3,69.5 533.4,68.4 533.5,67.4 533.6,66.3 533.8,65.3 533.9,64.3 534.0,63.3 534.1,61.5 534.2,60.7 534.4,60.4 534.5,58.8 534.6,57.0 534.7,56.2 534.8,56.8 534.9,56.6 535.1,55.0 535.2,53.7 535.4,52.9 535.5,50.5 535.7,49.0 535.8,47.5 536.0,47.2 536.1,46.5 536.2,46.1 536.4,44.3 536.5,44.2 536.6,43.4 536.8,41.9 537.0,40.8 537.1,40.3 537.3,38.1 537.4,38.1 537.6,37.4 538.0,35.8 538.5,35.7 539.1,34.9 539.7,36.4 540.0,37.0 540.3,37.8 540.6,39.2 541.0,40.9 541.2,41.2 541.4,42.4 541.6,43.5 541.8,44.4 542.1,45.0 542.3,46.8 542.6,47.7 542.8,48.6 543.1,49.5 543.3,50.6 543.5,52.9 543.7,53.8 543.9,54.4 544.1,55.1 544.3,56.3 544.5,57.4 544.7,58.8 544.8,58.7 545.1,59.9 545.3,60.8 545.5,62.2 545.8,62.8 546.2,64.1 546.5,64.8 546.9,67.8 547.3,68.3 547.7,69.1 548.0,71.2 548.4,70.4 549.2,69.2 550.0,69.7 551.0,68.7 551.5,68.0 552.1,67.0 552.7,66.5 553.4,64.2 554.1,62.1 554.8,61.8 555.4,62.2 556.0,61.4 556.9,60.0 557.7,59.4 558.4,59.0 559.2,58.0 560.0,57.3 561.0,57.0 562.0,56.2 563.0,55.5 564.2,55.2 565.1,55.7 566.0,56.1 567.1,57.2 568.1,57.8 569.1,58.1 570.0,58.7 570.8,59.9 571.5,60.4 572.2,61.5 572.9,61.6 573.6,62.7 574.3,63.3 575.0,63.6 575.7,63.9 576.4,65.6 577.1,67.2 577.9,68.5 578.6,69.0 579.3,69.5 580.0,69.4 581.0,70.7 582.0,71.1 583.1,71.6 584.1,71.7 585.0,72.1 586.0,72.0 586.9,71.0 587.9,71.0 589.0,70.0 589.6,70.1 590.3,69.5 590.9,68.3 591.6,68.1 592.4,66.3 593.2,64.3 594.0,64.1 595.0,63.1 595.6,62.1 596.3,61.1 597.0,61.8 597.8,60.2 598.6,59.4 599.3,58.6 600.2,58.3 601.0,57.7 601.8,57.4 602.6,55.2 603.4,54.7 604.2,53.9 605.0,53.9 606.0,53.0 607.0,52.5 607.9,53.0 608.9,52.0 609.9,51.4 610.9,51.8 611.9,51.9 612.9,49.8 613.9,49.7 615.0,48.7 615.9,49.4 616.9,48.8 617.8,48.3 618.8,48.8 619.8,49.1 620.8,48.6 621.8,47.1 622.9,47.0 623.9,46.4 624.9,48.2 626.0,47.5 627.0,46.6 628.0,47.2 629.0,48.7 630.0,47.8 631.0,47.3 632.1,48.2 633.1,48.9 634.1,49.5 635.2,50.7 636.2,49.4 637.2,50.3 638.2,50.2 639.1,49.7 640.0,50.5 641.1,51.5 642.2,51.9 643.2,51.9 644.2,52.6 645.2,52.5 646.1,53.0 647.1,52.9 648.0,52.9 649.0,52.4 650.0,53.0 651.0,53.2 652.0,53.8 652.9,53.6 653.9,52.7 654.9,53.5 655.9,53.4 656.9,53.4 657.9,52.5 658.9,52.4 660.0,52.3 660.9,51.9 661.9,52.0 662.8,51.1 663.8,50.8 664.8,51.7 665.8,50.7 666.8,51.9 667.9,51.2 668.9,50.3 669.9,50.8 671.0,49.7 672.0,50.4 673.0,49.3 673.9,50.0 674.9,49.2 675.9,48.6 676.8,49.6 677.8,49.6 678.8,48.6 679.8,48.3 680.8,47.4 681.8,47.6 682.9,48.0 683.9,47.5 685.0,47.2 685.9,46.3 686.8,47.2 687.6,46.6 688.5,47.1 689.3,47.5 690.1,46.7 691.0,46.1 691.9,46.1 692.8,46.1 693.8,45.5 694.9,45.4 696.0,44.3 697.2,45.4 698.6,45.1 700.0,46.1 700.8,45.3 701.6,45.4 702.4,45.5 703.2,45.4 704.1,46.1 705.0,45.5 706.0,45.4 706.9,45.5 707.9,45.3 708.9,45.6 709.9,44.8 710.9,45.3 712.0,44.3 713.0,44.7 714.1,44.5 715.1,44.5 716.2,44.9 717.3,45.0 718.4,45.2 719.4,44.4 720.5,45.7 721.6,45.3 722.7,45.0 723.8,44.7 724.8,45.4 725.9,44.5 726.9,44.8 728.0,45.1 729.0,44.7 730.0,44.4 731.0,44.2 732.0,45.0 733.0,45.0 734.1,45.5 735.1,45.6 736.2,45.9 737.2,44.3 738.2,45.0 739.3,44.3 740.4,44.1 741.4,44.0 742.5,44.3 743.5,45.2 744.6,45.2 745.6,45.3 746.6,44.0 747.7,45.5 748.7,45.1 749.7,45.5 750.7,45.1 751.7,44.9 752.7,44.0 753.7,44.3 754.6,42.9 755.5,43.7 756.5,43.5 757.4,44.3 758.3,44.6 759.1,44.4 760.0,44.5 761.3,44.2 762.5,45.0 763.8,44.0 765.0,44.5 766.3,43.3 767.5,44.2 768.7,44.3 769.9,44.1 771.0,44.3 772.1,44.5 773.2,44.1 774.2,44.2 775.2,45.0 776.2,45.3 777.0,45.2 777.9,44.0 778.6,44.6 779.3,44.3 779.9,43.9 780.5,44.0" fill="none" stroke="#17bde2" stroke-width="3.2" stroke-linejoin="round" stroke-linecap="butt"/>
<path d="M506.5,255.6 507.0,255.3 508.1,254.8 509.5,254.0 510.4,253.3 511.3,252.4 512.1,251.0 512.5,250.3 512.8,249.4 513.2,248.5 513.5,247.6 513.9,246.5 514.2,245.3 514.5,244.0 514.8,243.2 515.0,242.3 515.2,241.4 515.4,240.5 515.6,239.5 515.8,238.5 516.0,237.5 516.2,236.4 516.4,235.3 516.6,234.2 516.8,233.1 517.0,232.0 517.2,231.1 517.4,230.2 517.5,229.2 517.7,228.2 517.9,227.2 518.1,226.2 518.2,225.2 518.4,224.2 518.6,223.1 518.8,222.1 519.0,221.1 519.1,220.0 519.3,219.0 519.5,218.0 519.7,217.0 519.8,216.0 520.0,215.1 520.2,214.1 520.3,213.2 520.5,212.3 520.7,211.3 520.9,210.4 521.0,209.5 521.2,208.5 521.4,207.5 521.5,206.5 521.7,205.4 521.9,204.4 522.0,203.2 522.2,202.0 522.3,201.1 522.4,200.3 522.5,199.4 522.6,198.5 522.7,197.5 522.8,196.6 522.9,195.6 523.0,194.6 523.1,193.6 523.2,192.6 523.3,191.6 523.4,190.6 523.5,189.6 523.7,188.5 523.8,187.5 523.9,186.4 524.0,185.3 524.1,184.3 524.2,183.2 524.3,182.1 524.4,181.1 524.5,180.0 524.6,179.1 524.7,178.1 524.8,177.2 524.9,176.2 525.0,175.2 525.1,174.3 525.2,173.3 525.3,172.3 525.4,171.3 525.5,170.3 525.6,169.3 525.7,168.3 525.8,167.3 526.0,166.3 526.1,165.3 526.2,164.3 526.3,163.3 526.4,162.2 526.5,161.2 526.6,160.2 526.7,159.1 526.8,158.1 526.9,157.1 527.0,156.0 527.1,155.0 527.2,154.0 527.3,153.1 527.4,152.1 527.5,151.1 527.6,150.1 527.7,149.1 527.7,148.0 527.8,147.0 527.9,146.0 528.0,145.0 528.1,143.9 528.2,142.9 528.3,141.9 528.4,140.9 528.5,139.8 528.6,138.8 528.6,137.8 528.7,136.8 528.8,135.8 528.9,134.8 529.0,133.8 529.1,132.8 529.2,131.8 529.3,130.8 529.3,129.9 529.4,128.9 529.5,128.0 529.6,126.9 529.7,125.8 529.8,124.7 529.9,123.6 530.0,122.5 530.0,121.4 530.1,120.3 530.2,119.2 530.3,118.1 530.4,117.0 530.5,115.9 530.5,114.9 530.6,113.8 530.7,112.8 530.8,111.8 530.9,110.8 531.0,109.9 531.0,109.0 531.1,108.1 531.2,107.3 531.3,106.5 531.4,105.7 531.5,105.0 531.8,103.4 532.0,102.0 532.3,100.9 532.6,99.9 532.9,99.1 533.1,98.3 533.4,97.6 533.7,96.8 534.0,96.5 534.4,95.2 534.8,93.5 535.3,92.3 535.7,91.4 536.1,90.0 536.5,89.6 537.3,87.7 538.0,86.7 538.8,85.8 539.5,86.2 540.2,87.2 541.0,88.6 541.3,89.2 541.7,89.4 542.1,90.7 542.4,92.1 542.8,93.8 543.1,94.8 543.5,96.1 543.9,97.1 544.2,98.0 544.6,99.7 545.0,100.9 545.3,101.8 545.7,102.9 546.0,104.1 546.6,105.3 547.2,105.9 548.0,106.7 548.8,105.8 549.8,105.7 550.8,105.3 552.0,104.3 552.6,103.6 553.3,102.6 554.0,101.6 554.8,101.1 555.5,99.9 556.3,99.9 557.1,98.9 558.0,98.6 558.9,98.1 559.9,97.2 560.9,96.8 562.0,96.2 563.1,95.6 564.1,95.1 565.1,94.7 566.0,94.8 567.1,94.7 568.2,94.5 569.2,95.3 570.1,95.9 571.1,96.0 572.0,97.1 572.9,97.5 573.8,98.1 574.6,99.4 575.4,99.5 576.2,101.5 577.0,101.4 577.9,102.9 578.8,102.6 579.7,103.1 580.6,103.1 581.5,103.4 582.6,103.4 583.8,103.3 584.9,102.4 586.0,102.2 586.8,101.4 587.6,101.5 588.4,100.7 589.1,99.8 590.0,99.0 590.6,98.7 591.2,97.5 591.8,97.4 592.5,96.4 593.2,95.9 594.0,95.2 595.0,93.6 595.6,93.2 596.2,92.5 596.8,91.9 597.5,91.8 598.2,91.4 598.9,90.9 599.7,89.4 600.5,88.3 601.2,87.5 602.0,86.8 602.8,86.4 603.5,85.7 604.3,84.4 605.0,84.5 605.9,83.9 606.8,82.6 607.7,81.7 608.6,81.3 609.5,80.4 610.5,80.0 611.4,79.6 612.3,79.8 613.2,79.2 614.1,77.9 615.0,77.9 616.0,77.0 617.0,76.9 618.0,76.8 619.0,76.4 620.0,75.5 621.0,75.5 622.0,74.8 623.0,74.5 624.0,74.3 625.0,73.9 626.0,73.7 626.9,72.9 627.8,72.5 628.8,72.2 629.7,72.3 630.6,72.0 631.6,71.8 632.7,72.1 633.8,71.6 635.0,71.3 635.9,71.3 636.8,71.3 637.8,71.7 638.8,71.7 639.8,71.1 640.9,71.2 642.0,70.8 643.0,71.6 644.1,71.9 645.2,71.1 646.2,71.6 647.2,71.6 648.2,71.6 649.1,71.5 650.0,71.8 651.2,72.1 652.3,71.8 653.3,72.1 654.3,72.1 655.2,71.8 656.1,71.9 657.0,72.0 658.0,70.9 658.9,70.9 660.0,70.7 660.9,70.6 661.9,70.6 663.0,69.7 664.0,69.4 665.1,68.8 666.1,68.7 667.2,67.7 668.2,67.2 669.2,67.2 670.2,67.0 671.1,66.3 672.0,65.9 673.2,65.9 674.2,64.9 675.2,64.5 676.1,63.7 677.0,63.8 678.0,63.3 678.9,62.6 680.0,62.6 680.9,62.1 681.9,61.8 682.9,61.9 683.9,61.8 684.9,61.3 685.9,60.7 686.9,60.6 688.0,60.0 689.0,60.1 690.0,59.5 691.0,59.2 692.0,58.9 692.9,58.9 693.9,58.5 694.9,58.0 695.9,57.8 696.9,57.3 697.9,57.1 698.9,57.1 700.0,56.8 700.9,56.4 701.9,56.8 702.9,56.5 703.9,56.0 705.0,56.0 706.0,56.3 707.0,55.8 708.1,55.8 709.1,55.8 710.1,55.8 711.1,55.8 712.0,55.7 713.1,56.1 714.2,56.5 715.2,55.8 716.2,55.8 717.2,56.1 718.2,55.6 719.2,55.2 720.2,55.3 721.1,55.1 722.0,55.1 723.1,54.7 724.1,54.0 725.1,54.0 726.1,53.7 727.1,53.8 728.0,53.0 729.0,52.9 730.0,52.9 731.0,52.8 732.0,51.8 733.0,52.2 734.1,51.9 735.1,51.5 736.1,51.2 737.0,50.4 738.0,50.6 739.0,50.4 740.0,50.6 740.9,50.2 741.8,50.6 742.8,49.7 743.9,49.3 745.0,49.9 745.9,49.5 746.8,48.8 747.8,48.9 748.8,48.9 749.8,48.6 750.9,48.6 751.9,48.0 753.0,48.1 754.0,48.2 755.0,48.0 756.0,48.3 756.9,48.2 757.8,48.0 758.7,47.9 759.7,47.3 760.6,47.2 761.6,47.5 762.6,47.2 763.8,47.4 765.0,47.4 765.9,47.5 766.9,46.9 768.0,47.5 769.1,47.5 770.3,47.6 771.5,47.5 772.8,47.7 774.0,46.6 775.2,46.4 776.3,46.6 777.3,46.1 778.3,46.7 779.2,46.9 779.9,47.0 780.5,46.1" fill="none" stroke="#5f9ea0" stroke-width="2.6" stroke-linejoin="round" stroke-linecap="butt"/>
<path d="M506.5,255.6 507.0,255.3 508.1,254.8 509.5,254.0 510.4,253.3 511.3,252.4 512.1,251.0 512.4,250.3 512.8,249.4 513.1,248.5 513.4,247.6 513.8,246.5 514.1,245.3 514.4,244.0 514.6,243.2 514.8,242.3 515.0,241.4 515.2,240.5 515.4,239.5 515.6,238.5 515.8,237.5 516.0,236.4 516.2,235.3 516.4,234.2 516.6,233.1 516.8,232.0 516.9,231.1 517.1,230.2 517.3,229.2 517.4,228.2 517.6,227.2 517.8,226.2 517.9,225.2 518.1,224.2 518.3,223.1 518.4,222.1 518.6,221.1 518.8,220.0 518.9,219.0 519.1,218.0 519.3,217.0 519.4,216.0 519.6,215.1 519.8,214.1 519.9,213.2 520.1,212.3 520.3,211.3 520.4,210.4 520.6,209.5 520.7,208.5 520.9,207.5 521.1,206.5 521.2,205.4 521.4,204.4 521.5,203.2 521.7,202.0 521.8,201.1 521.9,200.3 522.0,199.4 522.1,198.5 522.2,197.5 522.3,196.6 522.4,195.6 522.5,194.6 522.6,193.6 522.7,192.6 522.8,191.6 522.9,190.6 523.0,189.6 523.1,188.5 523.3,187.5 523.4,186.4 523.5,185.3 523.6,184.3 523.7,183.2 523.8,182.1 523.9,181.1 524.0,180.0 524.1,179.1 524.2,178.1 524.3,177.2 524.4,176.2 524.5,175.2 524.6,174.3 524.7,173.3 524.8,172.3 524.9,171.3 525.0,170.3 525.1,169.3 525.2,168.3 525.3,167.3 525.5,166.3 525.6,165.3 525.7,164.3 525.8,163.3 525.9,162.2 526.0,161.2 526.1,160.2 526.2,159.1 526.3,158.1 526.4,157.1 526.5,156.0 526.6,155.0 526.7,154.0 526.8,153.1 526.9,152.1 527.0,151.1 527.1,150.1 527.1,149.2 527.2,148.2 527.3,147.2 527.4,146.2 527.5,145.2 527.6,144.2 527.7,143.2 527.8,142.2 527.9,141.2 528.0,140.2 528.0,139.2 528.1,138.2 528.2,137.1 528.3,136.1 528.4,135.1 528.5,134.1 528.6,133.1 528.7,132.1 528.7,131.1 528.8,130.0 528.9,129.0 529.0,128.0 529.1,127.0 529.2,126.0 529.3,125.0 529.3,123.9 529.4,122.9 529.5,121.8 529.6,120.8 529.7,119.7 529.8,118.6 529.9,117.5 529.9,116.5 530.0,115.4 530.1,114.3 530.2,113.2 530.3,112.2 530.4,111.1 530.5,110.1 530.5,109.1 530.6,108.1 530.7,107.1 530.8,106.1 530.9,105.2 530.9,104.2 531.0,103.3 531.1,102.4 531.2,101.6 531.2,100.8 531.3,100.0 531.4,98.6 531.5,97.3 531.6,96.1 531.7,94.9 531.8,93.9 531.9,92.8 532.0,91.8 532.1,90.9 532.2,90.0 532.3,89.1 532.4,88.3 532.5,87.5 532.6,86.6 532.7,85.8 532.8,85.0 533.0,83.8 533.2,82.6 533.4,81.5 533.6,80.5 533.9,79.5 534.1,78.4 534.3,77.6 534.6,76.6 534.8,75.7 535.0,74.6 535.3,73.6 535.7,72.3 536.0,71.1 536.3,70.3 536.7,69.3 537.0,69.0 537.7,67.4 538.3,66.8 539.0,65.7 540.0,66.0 541.0,67.4 541.3,68.3 541.7,69.5 542.1,70.4 542.4,71.8 542.8,72.7 543.2,74.2 543.5,74.8 543.8,76.6 544.1,77.5 544.4,78.3 544.7,78.9 544.9,80.3 545.2,82.3 545.5,82.9 546.0,83.7 546.5,84.8 547.1,85.2 547.6,86.7 548.7,86.2 550.0,85.3 550.5,85.0 551.1,83.9 551.7,82.2 552.3,81.9 553.0,81.3 553.6,79.8 554.2,79.4 554.8,78.5 555.5,77.6 556.2,76.7 557.0,77.3 557.9,76.2 559.0,75.0 560.1,75.1 561.2,74.3 562.4,74.4 563.4,73.9 564.6,73.3 565.7,74.0 566.8,74.2 567.9,75.6 569.0,76.1 569.8,75.7 570.7,76.3 571.6,76.9 572.5,76.9 573.3,78.2 574.2,78.7 575.0,79.3 575.8,80.7 576.5,81.5 577.3,82.0 578.0,83.5 578.7,84.1 579.4,85.8 580.0,85.1 581.0,86.2 581.8,86.6 582.6,86.9 583.5,87.3 584.3,87.5 585.1,86.6 586.0,86.7 586.9,86.3 588.0,85.1 588.5,84.2 589.1,83.7 589.6,82.5 590.2,82.1 590.8,81.6 591.5,80.6 592.1,79.4 592.8,77.4 593.5,77.2 594.2,76.2 595.0,76.0 595.6,74.3 596.2,74.3 596.9,73.8 597.5,72.4 598.2,71.8 598.9,71.5 599.6,69.8 600.4,69.5 601.1,68.1 601.8,66.9 602.5,66.0 603.1,66.0 603.8,65.9 604.4,64.7 605.0,64.2 606.0,63.0 606.9,62.4 607.7,62.5 608.5,61.0 609.3,61.1 610.1,59.9 611.0,60.1 612.0,60.7 612.9,59.9 613.8,59.2 614.7,59.3 615.6,58.2 616.6,57.6 617.6,56.9 618.7,57.3 619.8,57.2 620.9,56.6 622.0,56.5 622.9,56.0 623.8,56.1 624.8,56.0 625.7,56.2 626.7,56.3 627.7,56.0 628.7,56.9 629.7,57.1 630.8,57.6 631.8,56.9 632.9,57.3 633.9,57.3 635.0,58.1 636.0,58.0 636.9,58.2 638.0,58.4 639.0,58.5 640.0,58.9 641.1,58.9 642.2,58.7 643.2,59.0 644.3,59.5 645.3,59.7 646.3,60.1 647.3,59.7 648.2,59.7 649.1,59.7 650.0,59.9 651.2,59.9 652.3,60.4 653.3,60.0 654.3,59.2 655.2,59.8 656.1,59.6 657.0,59.6 658.0,59.3 658.9,58.2 660.0,58.2 660.9,58.4 661.9,57.9 663.0,57.3 664.0,58.1 665.1,56.7 666.1,57.2 667.2,56.6 668.2,56.8 669.2,56.0 670.2,55.6 671.1,56.2 672.0,55.7 673.2,55.1 674.2,54.5 675.2,54.7 676.1,53.6 677.0,53.3 678.0,53.4 678.9,52.8 680.0,51.9 680.9,52.3 681.9,52.1 682.9,52.2 683.9,51.6 684.9,51.6 685.9,51.1 686.9,51.1 688.0,50.9 689.0,51.2 690.0,51.3 691.0,50.5 691.8,50.5 692.7,50.2 693.5,49.9 694.4,49.8 695.3,50.0 696.3,50.2 697.4,49.7 698.6,49.0 700.0,49.0 700.8,49.3 701.6,49.6 702.5,48.9 703.4,49.8 704.3,49.5 705.3,49.2 706.3,49.1 707.3,48.3 708.3,49.1 709.4,48.8 710.4,49.0 711.5,48.6 712.6,48.1 713.7,48.8 714.8,48.6 715.8,48.1 716.9,48.5 718.0,48.7 719.0,48.6 720.0,48.4 721.0,48.0 722.0,48.3 723.0,47.9 724.0,48.0 725.0,48.2 726.0,48.0 727.0,48.2 728.0,47.6 729.0,46.7 730.0,46.9 731.0,47.5 732.0,47.4 733.0,47.0 734.0,47.0 735.0,47.6 736.0,47.9 737.0,47.7 738.0,47.3 739.0,47.2 740.0,46.7 741.0,46.6 742.0,47.3 743.0,47.4 744.0,46.3 745.0,46.4 746.0,46.9 747.0,46.4 748.0,46.2 749.0,45.6 750.0,46.6 751.0,46.1 752.0,46.0 753.0,46.4 754.0,46.0 755.0,45.9 756.0,45.3 757.0,46.1 758.0,45.7 759.0,46.4 760.0,46.3 761.0,45.3 762.1,45.1 763.2,45.2 764.4,45.3 765.6,45.3 766.8,45.4 768.0,44.6 769.1,44.3 770.3,44.7 771.5,44.7 772.6,44.6 773.8,44.9 774.8,44.5 775.8,45.2 776.8,44.8 777.7,44.1 778.5,44.8 779.3,44.8 779.9,44.6 780.5,44.2" fill="none" stroke="#1e8ef8" stroke-width="2.6" stroke-linejoin="round" stroke-linecap="butt"/>
<path d="M506.5,255.6 507.0,255.3 508.2,254.8 509.6,254.0 510.4,253.3 511.3,252.4 512.2,251.0 512.5,250.3 512.9,249.4 513.3,248.5 513.6,247.6 514.0,246.5 514.3,245.3 514.7,244.0 514.9,243.2 515.1,242.3 515.3,241.4 515.5,240.5 515.7,239.5 515.9,238.5 516.1,237.5 516.4,236.4 516.6,235.3 516.8,234.2 517.0,233.1 517.2,232.0 517.4,231.1 517.6,230.2 517.8,229.2 518.0,228.2 518.2,227.2 518.4,226.2 518.5,225.2 518.7,224.2 518.9,223.1 519.1,222.1 519.3,221.1 519.5,220.0 519.7,219.0 519.9,218.0 520.0,217.0 520.2,216.0 520.4,215.1 520.6,214.1 520.8,213.2 521.0,212.3 521.1,211.3 521.3,210.4 521.5,209.5 521.7,208.5 521.8,207.5 522.0,206.5 522.2,205.4 522.4,204.4 522.5,203.2 522.7,202.0 522.8,201.1 522.9,200.3 523.0,199.4 523.1,198.5 523.2,197.5 523.3,196.6 523.4,195.6 523.5,194.6 523.7,193.6 523.8,192.6 523.9,191.6 524.0,190.6 524.1,189.6 524.2,188.5 524.3,187.5 524.4,186.4 524.5,185.3 524.6,184.3 524.7,183.2 524.8,182.1 524.9,181.1 525.0,180.0 525.1,179.1 525.2,178.1 525.3,177.2 525.4,176.2 525.5,175.2 525.6,174.3 525.7,173.3 525.8,172.3 525.9,171.3 526.0,170.3 526.1,169.3 526.2,168.3 526.3,167.3 526.5,166.3 526.6,165.3 526.7,164.3 526.8,163.3 526.9,162.2 527.0,161.2 527.1,160.2 527.2,159.1 527.3,158.1 527.4,157.1 527.5,156.0 527.6,155.0 527.7,154.0 527.8,153.0 527.9,152.0 528.0,151.0 528.1,149.9 528.2,148.9 528.2,147.8 528.3,146.7 528.4,145.6 528.5,144.5 528.6,143.5 528.7,142.4 528.8,141.3 528.9,140.2 529.0,139.1 529.1,138.1 529.2,137.1 529.2,136.0 529.3,135.0 529.4,134.1 529.5,133.1 529.6,132.2 529.7,131.3 529.8,130.4 529.8,129.6 529.9,128.8 530.0,128.0 530.2,126.5 530.3,125.2 530.5,124.0 530.6,122.9 530.7,121.9 530.9,120.9 531.0,120.1 531.1,119.2 531.3,118.4 531.4,117.6 531.6,116.7 531.7,115.9 531.9,115.0 532.1,113.9 532.3,112.8 532.6,111.7 532.8,110.7 533.0,109.6 533.3,108.6 533.5,107.6 533.8,106.7 534.0,105.4 534.3,104.9 534.5,103.7 534.9,102.6 535.2,101.6 535.6,100.4 536.0,99.8 536.3,98.6 536.7,98.1 537.0,97.4 537.6,95.7 538.2,95.2 538.8,94.2 539.5,94.2 540.2,95.3 541.0,96.5 541.3,97.3 541.7,98.3 542.1,99.3 542.4,100.9 542.8,101.9 543.1,103.2 543.5,104.4 543.9,105.5 544.4,106.6 544.8,107.5 545.2,108.5 545.6,109.3 546.0,110.1 546.6,111.0 547.2,112.3 548.0,113.1 548.8,112.7 549.8,112.6 550.8,112.6 552.0,111.2 552.6,110.5 553.3,109.8 554.0,109.1 554.7,108.1 555.4,107.2 556.2,106.2 557.1,105.2 558.0,104.8 558.9,104.7 559.9,104.0 560.9,103.1 562.0,103.2 563.1,102.6 564.2,102.4 565.2,102.0 566.2,102.0 567.0,101.9 568.3,101.4 569.3,102.1 570.2,102.6 571.1,103.1 572.0,103.1 572.8,103.8 573.7,104.3 574.5,104.7 575.3,106.0 576.2,106.6 577.0,107.5 578.0,108.1 579.0,109.2 580.0,109.6 581.0,110.3 582.0,110.1 583.0,110.5 583.9,110.0 584.8,109.4 585.8,108.5 587.0,107.7 587.7,107.5 588.4,106.5 589.1,105.8 589.9,105.1 590.7,104.2 591.5,103.3 592.4,102.8 593.2,102.2 594.1,101.0 595.0,100.2 595.6,99.4 596.2,99.0 596.9,98.3 597.5,97.1 598.2,96.9 598.9,95.6 599.5,95.1 600.2,94.5 600.9,93.5 601.6,92.9 602.3,91.5 603.0,91.4 603.7,90.1 604.3,89.6 605.0,88.9 605.8,88.5 606.7,87.6 607.5,86.9 608.3,86.6 609.2,85.7 610.0,85.2 610.8,85.1 611.7,84.7 612.5,84.0 613.3,82.9 614.2,83.0 615.0,82.9 616.0,82.2 617.0,81.2 618.0,80.5 619.0,80.2 620.0,80.1 621.0,79.5 622.0,79.2 623.0,79.3 624.0,78.7 625.0,78.5 626.0,77.8 626.9,78.0 627.8,78.1 628.8,77.8 629.7,77.6 630.6,78.0 631.6,77.8 632.7,77.1 633.8,77.1 635.0,77.0 635.9,76.8 636.8,77.0 637.8,77.1 638.8,77.2 639.8,77.3 640.9,77.2 642.0,77.5 643.0,77.1 644.1,77.7 645.2,77.0 646.2,77.3 647.2,77.1 648.2,77.2 649.1,77.5 650.0,77.5 651.2,77.9 652.3,77.4 653.3,77.3 654.3,77.2 655.2,76.9 656.1,77.0 657.0,76.6 658.0,76.3 658.9,76.1 660.0,75.7 660.9,75.5 661.9,75.5 663.0,75.1 664.0,74.6 665.1,74.2 666.1,74.0 667.2,73.5 668.2,72.9 669.2,72.4 670.2,72.5 671.1,72.2 672.0,71.9 673.2,71.3 674.2,71.0 675.2,70.6 676.1,70.4 677.0,70.6 678.0,69.9 678.9,69.7 680.0,69.4 680.9,69.0 681.9,69.0 682.9,68.9 683.9,68.3 684.9,68.3 685.9,68.0 686.9,67.7 688.0,67.2 689.0,66.9 690.0,66.7 691.0,66.1 692.0,65.4 692.9,65.5 693.9,65.6 694.9,65.9 695.9,65.3 696.9,65.2 697.9,64.5 698.9,64.5 700.0,64.6 700.9,64.6 701.9,64.7 702.9,64.8 703.9,64.6 705.0,65.1 706.0,64.8 707.0,64.5 708.1,64.0 709.1,63.8 710.1,64.4 711.1,64.6 712.0,64.2 713.1,63.9 714.2,64.2 715.2,64.2 716.2,64.0 717.2,63.9 718.2,63.8 719.2,63.7 720.2,63.7 721.1,63.7 722.0,63.3 723.1,63.0 724.1,62.8 725.1,62.6 726.0,62.6 726.9,62.5 727.9,62.0 728.9,61.5 730.0,61.4 730.9,61.3 731.9,61.5 732.9,61.0 733.9,59.8 734.9,59.6 735.9,59.7 736.9,59.4 738.0,58.6 739.0,58.5 740.0,58.0 741.0,57.8 742.0,57.2 743.0,57.0 744.0,56.7 745.0,56.8 746.0,56.6 747.0,56.2 748.0,55.7 749.0,55.6 750.0,55.3 751.0,55.5 752.0,55.2 753.0,54.9 754.0,54.8 755.0,54.7 756.0,54.6 757.0,54.7 758.0,54.4 759.0,54.1 760.0,54.0 761.0,54.4 762.0,53.9 763.0,54.3 764.0,53.7 765.0,53.9 766.0,53.9 767.0,53.7 768.0,53.9 769.0,53.8 770.0,53.7 771.1,53.7 772.2,53.8 773.4,53.3 774.7,53.8 775.9,53.8 777.0,53.3 778.1,52.9 779.1,53.7 779.9,52.8 780.5,53.2" fill="none" stroke="#4169e1" stroke-width="2.6" stroke-linejoin="round" stroke-linecap="butt"/>
<path d="M506.5,255.6 507.0,255.3 508.2,254.8 509.6,254.0 510.3,253.5 511.0,252.9 511.7,252.1 512.4,251.0 512.8,250.3 513.2,249.4 513.6,248.5 514.0,247.6 514.4,246.5 514.8,245.3 515.2,244.0 515.5,243.2 515.7,242.3 516.0,241.4 516.3,240.5 516.5,239.5 516.8,238.5 517.1,237.5 517.3,236.4 517.6,235.3 517.9,234.2 518.1,233.1 518.4,232.0 518.7,231.1 518.9,230.2 519.1,229.2 519.4,228.2 519.6,227.2 519.8,226.2 520.1,225.2 520.3,224.2 520.6,223.1 520.8,222.1 521.0,221.1 521.3,220.0 521.5,219.0 521.7,218.0 522.0,217.0 522.2,216.0 522.4,215.1 522.7,214.1 522.9,213.2 523.1,212.3 523.3,211.3 523.6,210.4 523.8,209.5 524.0,208.5 524.2,207.5 524.4,206.5 524.6,205.4 524.8,204.4 525.0,203.2 525.2,202.0 525.3,201.1 525.4,200.3 525.5,199.3 525.6,198.4 525.7,197.4 525.8,196.5 525.9,195.4 526.0,194.4 526.0,193.4 526.1,192.4 526.2,191.3 526.3,190.3 526.4,189.2 526.5,188.1 526.6,187.1 526.7,186.0 526.8,185.0 526.9,184.0 527.0,183.0 527.2,182.0 527.3,181.0 527.5,180.0 527.7,178.9 527.9,177.9 528.2,176.8 528.4,175.7 528.7,174.6 529.0,173.5 529.3,172.4 529.6,171.3 529.9,170.3 530.2,169.2 530.6,168.1 530.9,167.1 531.2,166.1 531.5,165.1 531.8,164.2 532.0,163.3 532.3,162.4 532.6,161.5 532.8,160.7 533.0,160.0 533.4,158.5 533.8,157.2 534.1,156.2 534.4,155.1 534.6,154.1 534.8,152.9 535.0,152.8 535.3,151.6 535.5,151.0 535.9,149.8 536.3,148.1 536.7,147.1 537.0,146.4 537.3,145.8 537.9,144.1 538.5,143.8 539.2,143.8 540.0,144.9 540.4,145.5 540.9,146.8 541.5,147.7 542.0,148.9 542.5,150.1 543.0,151.0 543.5,152.0 544.0,153.0 544.5,154.1 545.0,154.5 546.0,155.3 547.0,155.3 547.9,155.0 548.8,154.4 550.0,153.2 550.7,152.7 551.5,152.4 552.4,151.7 553.3,151.2 554.1,150.6 555.0,150.2 556.0,149.8 557.0,149.0 558.1,148.2 559.1,148.0 560.0,148.0 561.0,148.3 562.0,147.4 563.0,147.8 564.0,148.0 564.9,148.3 565.9,148.7 567.0,148.7 568.0,148.9 569.0,149.4 570.0,149.9 571.0,149.6 571.9,150.1 573.0,150.7 574.0,151.0 575.1,151.3 576.2,151.7 577.4,151.8 578.6,152.1 579.7,152.1 580.8,151.8 581.9,151.8 582.9,151.0 584.0,150.5 585.0,150.4 585.7,149.6 586.3,149.0 586.9,148.4 587.5,147.5 588.2,146.9 589.0,145.8 590.0,144.6 590.5,144.5 591.1,143.7 591.7,143.0 592.3,142.0 593.0,141.5 593.6,140.5 594.3,140.0 595.0,139.0 595.8,138.5 596.5,137.2 597.2,136.1 597.9,135.3 598.6,134.6 599.3,133.6 600.0,132.9 600.8,132.2 601.5,131.5 602.3,130.3 603.1,130.2 603.8,129.4 604.6,128.7 605.4,127.6 606.2,126.9 606.9,126.3 607.7,125.5 608.5,124.9 609.2,123.9 610.0,123.5 610.9,122.7 611.9,122.0 612.8,121.3 613.8,120.8 614.7,120.3 615.7,119.6 616.6,119.3 617.5,118.4 618.4,117.9 619.2,117.8 620.0,117.2 621.1,116.1 622.2,115.8 623.2,115.5 624.1,115.5 625.0,115.1 626.0,114.6 627.0,114.8 628.0,114.5 628.9,114.2 629.9,114.7 630.9,114.4 632.0,114.4 633.0,115.1 634.0,114.8 635.0,114.7 636.0,115.0 637.0,115.5 638.0,115.3 639.1,115.4 640.1,116.0 641.1,115.8 642.0,115.4 643.0,115.6 644.0,115.7 645.0,115.2 645.9,114.7 646.8,114.2 647.8,114.2 648.9,113.6 650.0,113.3 650.8,113.0 651.6,112.8 652.5,112.4 653.4,112.0 654.3,111.5 655.3,110.9 656.2,110.8 657.2,110.3 658.1,109.6 659.1,109.0 660.0,108.8 660.9,108.2 661.8,107.9 662.7,107.0 663.6,106.3 664.5,105.5 665.5,105.3 666.4,105.2 667.3,104.6 668.2,103.7 669.1,103.5 670.0,102.8 670.9,101.8 671.8,101.3 672.7,100.9 673.6,100.6 674.5,100.2 675.5,99.6 676.4,99.4 677.3,98.7 678.2,98.2 679.1,97.6 680.0,97.4 681.0,97.0 682.0,96.8 683.0,96.4 684.0,96.0 685.0,95.7 686.0,95.3 687.0,94.5 688.0,94.3 689.0,94.2 690.0,93.8 691.0,93.1 692.0,92.7 693.0,92.6 694.0,92.1 695.0,91.9 696.0,91.3 697.0,91.1 698.0,90.7 699.0,90.2 700.0,90.0 701.0,89.8 702.0,89.4 703.0,89.7 704.0,89.7 705.0,89.7 706.0,89.7 707.0,89.6 708.0,89.3 709.0,89.4 710.0,88.9 711.0,89.0 712.0,88.7 713.1,88.5 714.1,88.4 715.1,87.7 716.1,88.0 717.1,87.6 718.1,87.8 719.1,87.4 720.0,87.2 721.1,86.9 722.2,86.3 723.2,86.3 724.2,86.2 725.2,85.5 726.1,85.2 727.1,85.2 728.0,84.6 729.0,83.8 729.8,84.1 730.7,83.5 731.5,83.0 732.4,82.4 733.6,82.0 735.0,81.4 735.8,81.0 736.6,80.7 737.5,80.6 738.4,80.1 739.4,80.1 740.4,79.6 741.5,79.1 742.5,78.7 743.6,78.5 744.7,78.1 745.8,78.1 746.9,77.3 747.9,77.0 749.0,76.8 750.0,76.5 751.0,76.5 752.0,75.9 753.0,75.8 754.0,75.6 755.0,75.0 756.0,74.8 757.0,74.9 758.0,74.9 759.0,74.7 760.0,74.6 761.0,74.4 762.0,74.1 763.0,74.0 764.0,73.9 765.0,73.2 766.1,73.3 767.2,73.3 768.3,72.8 769.5,72.7 770.7,72.8 771.9,72.6 773.1,72.5 774.3,72.2 775.4,72.0 776.5,72.0 777.5,71.9 778.4,71.9 779.2,71.4 779.9,71.1 780.5,71.1" fill="none" stroke="#0000f0" stroke-width="2.6" stroke-linejoin="round" stroke-linecap="butt"/>
<path d="M506.5,255.6 507.0,255.3 508.2,254.8 509.6,254.0 510.3,253.5 510.9,252.9 511.6,252.1 512.3,251.0 512.7,250.3 513.0,249.4 513.4,248.5 513.8,247.6 514.1,246.5 514.5,245.3 514.9,244.0 515.1,243.2 515.4,242.3 515.6,241.4 515.8,240.5 516.0,239.5 516.3,238.5 516.5,237.5 516.7,236.4 517.0,235.3 517.2,234.2 517.5,233.1 517.7,232.0 517.9,231.1 518.1,230.2 518.3,229.2 518.5,228.2 518.7,227.2 518.9,226.2 519.2,225.2 519.4,224.2 519.6,223.1 519.8,222.1 520.0,221.1 520.2,220.0 520.4,219.0 520.6,218.0 520.8,217.0 521.0,216.0 521.2,215.1 521.4,214.1 521.6,213.2 521.8,212.3 522.0,211.3 522.2,210.4 522.4,209.5 522.6,208.5 522.8,207.5 523.0,206.5 523.2,205.4 523.3,204.4 523.5,203.2 523.7,202.0 523.8,201.1 523.9,200.3 524.0,199.4 524.1,198.5 524.3,197.5 524.4,196.6 524.5,195.6 524.6,194.6 524.7,193.6 524.8,192.6 524.9,191.6 525.0,190.6 525.1,189.6 525.2,188.5 525.3,187.5 525.4,186.4 525.5,185.3 525.6,184.3 525.7,183.2 525.8,182.1 525.9,181.1 526.0,180.0 526.1,179.0 526.2,178.1 526.3,177.1 526.4,176.1 526.5,175.0 526.6,174.0 526.7,172.9 526.8,171.9 526.9,170.8 527.0,169.7 527.1,168.7 527.2,167.6 527.3,166.5 527.4,165.5 527.5,164.4 527.6,163.4 527.7,162.4 527.8,161.4 527.9,160.4 528.1,159.4 528.2,158.5 528.3,157.6 528.4,156.7 528.5,155.8 528.6,155.0 528.8,153.7 529.0,152.5 529.2,151.4 529.3,150.3 529.5,149.3 529.7,148.3 529.9,147.4 530.1,146.5 530.3,145.6 530.5,144.7 530.7,143.8 530.9,142.9 531.1,142.0 531.3,141.0 531.5,140.0 531.7,139.0 531.9,138.0 532.1,136.9 532.3,135.9 532.4,134.8 532.6,133.7 532.8,132.6 533.0,131.5 533.2,130.5 533.4,129.4 533.6,128.4 533.8,127.4 534.0,126.5 534.1,125.3 534.3,124.7 534.5,124.0 534.9,122.3 535.3,121.2 535.7,120.2 536.0,118.9 536.4,118.3 536.7,117.4 537.0,116.5 537.6,115.0 538.1,114.2 538.6,113.6 539.5,114.7 540.5,116.2 540.9,117.0 541.4,117.9 542.0,119.0 542.5,120.0 543.0,121.1 543.5,122.1 544.0,122.9 544.6,123.9 545.1,125.5 545.5,126.4 546.0,127.0 546.9,128.3 548.0,128.7 548.8,128.4 549.8,128.1 550.8,126.8 552.0,126.0 552.6,125.2 553.3,124.6 554.1,123.8 554.8,122.6 555.6,121.7 556.4,120.6 557.2,120.2 558.0,119.4 559.0,118.8 560.0,118.6 561.0,117.8 562.1,117.6 563.1,116.9 564.1,117.1 565.0,116.5 566.1,116.4 567.1,116.6 568.1,116.8 569.0,117.1 570.0,117.8 571.0,117.8 572.0,118.6 573.0,119.3 574.0,119.6 575.0,119.5 576.0,120.5 577.1,121.1 578.1,121.6 579.2,122.0 580.3,122.3 581.2,122.4 582.2,122.1 583.1,121.6 584.1,121.1 585.0,120.3 586.0,119.7 586.7,118.8 587.3,118.3 588.0,117.3 588.6,116.6 589.3,116.0 590.0,115.1 590.7,114.6 591.3,112.9 592.0,112.5 592.6,111.8 593.2,110.7 593.8,109.9 594.4,109.4 595.0,108.7 595.6,107.4 596.2,106.4 596.8,105.6 597.4,104.9 598.0,104.1 598.6,103.8 599.2,102.7 599.8,101.6 600.3,100.7 600.9,99.9 601.5,99.2 602.1,98.3 602.7,97.4 603.3,96.4 604.0,95.4 604.7,95.0 605.4,94.3 606.1,93.7 606.8,92.9 607.6,92.0 608.4,91.3 609.1,90.7 609.9,89.9 610.7,89.2 611.5,88.9 612.4,88.3 613.3,88.1 614.1,86.7 615.0,86.6 615.9,85.8 616.9,85.3 617.9,85.4 618.9,84.8 620.0,84.4 620.9,84.5 621.8,84.1 622.8,83.7 623.8,83.6 624.9,83.3 625.9,82.8 627.0,82.7 628.0,82.7 629.1,82.9 630.1,82.6 631.1,82.6 632.0,82.2 633.1,82.3 634.2,82.1 635.2,82.1 636.2,81.9 637.2,82.0 638.2,81.8 639.2,81.6 640.2,81.7 641.1,81.6 642.0,81.6 643.1,81.5 644.1,81.5 645.1,81.4 646.0,81.4 646.9,81.4 647.9,81.4 648.9,81.3 650.0,81.0 650.9,81.4 651.8,81.3 652.8,81.0 653.8,80.9 654.8,81.2 655.8,81.2 656.8,81.1 657.8,81.3 658.9,80.6 660.0,80.2 660.9,80.1 661.8,79.9 662.7,79.4 663.7,78.9 664.7,78.4 665.6,77.7 666.6,77.2 667.6,77.2 668.5,76.9 669.5,76.2 670.4,75.4 671.2,75.4 672.0,74.9 673.2,74.1 674.2,73.9 675.2,73.5 676.1,73.1 677.0,72.9 678.0,72.8 678.9,72.3 680.0,71.9 680.9,71.8 681.9,71.6 682.9,71.3 683.9,70.7 684.9,70.0 685.9,69.8 686.9,69.4 688.0,68.9 689.0,68.9 690.0,68.3 691.0,68.2 692.0,67.9 692.9,67.8 693.9,67.3 694.9,67.0 695.9,66.5 696.9,66.4 697.9,66.4 698.9,66.1 700.0,65.9 700.9,65.4 701.9,66.0 702.9,66.1 703.9,65.9 705.0,65.8 706.0,65.6 707.0,65.8 708.1,65.4 709.1,65.5 710.1,65.8 711.1,65.3 712.0,65.4 713.1,65.8 714.2,65.5 715.2,65.8 716.2,65.8 717.2,65.7 718.2,65.8 719.2,65.5 720.2,65.3 721.1,65.1 722.0,64.8 723.1,64.6 724.1,64.5 725.1,64.0 726.0,64.3 726.9,64.1 727.9,63.3 728.9,63.2 730.0,63.2 730.9,63.1 731.9,62.2 732.9,62.2 733.9,61.8 734.9,61.3 735.9,60.8 736.9,60.8 738.0,60.0 739.0,59.9 740.0,59.5 741.0,59.3 742.0,58.9 743.0,58.7 744.0,58.5 745.0,57.9 746.0,57.9 747.0,57.5 748.0,57.3 749.0,57.4 750.0,57.0 751.0,56.2 752.0,56.4 753.0,56.3 754.0,56.1 755.0,56.2 756.0,55.8 757.0,55.7 758.0,55.8 759.0,55.6 760.0,55.9 761.0,55.1 762.0,54.9 763.0,54.6 764.0,55.2 765.0,55.2 766.0,55.0 767.0,54.7 768.0,54.8 769.0,54.7 770.0,54.5 771.1,54.4 772.2,54.3 773.4,54.0 774.7,54.1 775.9,54.2 777.0,54.1 778.1,54.2 779.1,54.0 779.9,54.3 780.5,54.0" fill="none" stroke="#0000cd" stroke-width="2.6" stroke-linejoin="round" stroke-linecap="butt"/>
<path d="M506.5,255.6 507.0,255.3 508.2,254.8 509.6,254.0 510.3,253.5 511.0,252.9 511.6,252.1 512.3,251.0 512.7,250.3 513.1,249.4 513.5,248.5 513.8,247.6 514.2,246.5 514.6,245.3 515.0,244.0 515.2,243.2 515.5,242.3 515.7,241.4 516.0,240.5 516.2,239.5 516.4,238.5 516.7,237.5 516.9,236.4 517.2,235.3 517.4,234.2 517.7,233.1 518.0,232.0 518.2,231.1 518.4,230.2 518.6,229.2 518.8,228.2 519.0,227.2 519.2,226.2 519.5,225.2 519.7,224.2 519.9,223.1 520.1,222.1 520.3,221.1 520.6,220.0 520.8,219.0 521.0,218.0 521.2,217.0 521.4,216.0 521.6,215.1 521.8,214.1 522.0,213.2 522.2,212.3 522.5,211.3 522.7,210.4 522.9,209.5 523.1,208.5 523.3,207.5 523.5,206.5 523.6,205.4 523.8,204.4 524.0,203.2 524.2,202.0 524.3,201.1 524.4,200.3 524.5,199.4 524.7,198.5 524.8,197.5 524.9,196.6 525.0,195.6 525.1,194.6 525.2,193.6 525.3,192.6 525.4,191.6 525.5,190.6 525.6,189.6 525.7,188.5 525.8,187.5 525.9,186.4 526.0,185.3 526.1,184.3 526.2,183.2 526.3,182.1 526.4,181.1 526.5,180.0 526.6,179.0 526.7,178.1 526.8,177.1 526.9,176.1 527.0,175.0 527.1,174.0 527.2,172.9 527.3,171.9 527.4,170.8 527.5,169.7 527.6,168.7 527.7,167.6 527.8,166.5 527.9,165.5 528.0,164.4 528.1,163.4 528.2,162.4 528.3,161.4 528.4,160.4 528.6,159.4 528.7,158.5 528.8,157.6 528.9,156.7 529.0,155.8 529.1,155.0 529.3,153.7 529.5,152.5 529.7,151.3 529.8,150.2 530.0,149.1 530.2,148.1 530.4,147.1 530.6,146.2 530.8,145.2 531.0,144.3 531.2,143.5 531.4,142.6 531.6,141.7 531.8,140.9 532.0,140.0 532.3,138.8 532.6,137.7 532.8,136.6 533.1,135.5 533.4,134.4 533.7,133.4 534.0,132.5 534.2,131.5 534.5,131.0 534.8,130.2 535.0,129.3 535.4,127.8 535.8,126.8 536.2,125.6 536.6,124.5 536.9,123.5 537.2,122.4 537.9,120.9 538.6,120.3 539.5,121.1 540.5,123.2 540.9,123.3 541.3,124.5 541.7,125.1 542.2,126.1 542.6,127.0 543.1,128.2 543.5,128.9 544.0,130.0 544.5,131.0 545.0,132.2 545.5,133.2 546.0,134.4 547.2,135.0 548.5,135.4 549.2,135.5 550.0,134.6 550.9,133.7 552.0,132.7 552.6,132.5 553.3,132.0 554.0,131.2 554.8,130.0 555.6,129.0 556.4,128.0 557.2,127.0 558.0,126.6 559.0,126.3 560.0,125.8 561.0,125.5 562.1,124.9 563.1,124.6 564.1,124.4 565.0,124.6 566.1,124.4 567.1,124.3 568.0,124.6 569.0,125.0 570.0,125.5 570.9,126.1 571.9,126.5 572.9,127.0 574.0,127.4 575.0,128.0 576.0,128.4 577.0,128.8 578.0,129.4 579.0,130.2 580.0,131.0 581.0,130.8 582.0,130.7 582.9,130.3 583.7,130.0 584.5,129.4 585.4,128.4 586.2,127.7 587.1,127.2 588.0,127.0 588.7,126.4 589.4,125.4 590.2,124.8 591.0,123.9 591.7,123.0 592.5,122.0 593.2,121.6 593.9,120.8 594.6,119.7 595.3,119.3 595.9,118.5 596.5,117.7 597.1,117.0 597.7,116.2 598.3,115.0 598.8,114.5 599.4,113.2 600.0,112.2 600.6,111.6 601.1,110.8 601.6,109.8 602.2,108.9 602.7,108.0 603.2,106.8 603.8,105.6 604.4,104.8 605.0,104.0 605.5,103.1 606.1,102.3 606.6,101.4 607.2,100.3 607.7,99.6 608.3,98.8 608.9,97.5 609.5,96.8 610.2,96.0 610.8,95.0 611.5,94.5 612.3,93.3 613.2,92.9 614.1,92.1 614.9,91.8 615.9,91.2 616.8,90.5 617.8,90.4 618.9,89.8 620.0,89.4 620.9,89.1 621.8,88.6 622.8,88.4 623.8,88.0 624.9,88.0 625.9,87.7 627.0,88.3 628.0,88.2 629.1,87.7 630.1,87.5 631.1,87.4 632.0,87.0 633.1,87.0 634.2,86.8 635.2,86.7 636.2,86.7 637.2,86.3 638.2,86.3 639.2,86.1 640.2,86.3 641.1,86.8 642.0,86.6 643.1,86.5 644.1,86.7 645.1,86.1 646.0,86.3 646.9,86.0 647.9,86.0 648.9,86.1 650.0,85.8 650.9,85.8 651.8,85.8 652.8,85.8 653.8,85.3 654.8,84.9 655.8,84.9 656.8,84.5 657.8,84.3 658.9,84.0 660.0,83.4 660.9,83.0 661.8,83.1 662.7,82.6 663.7,81.7 664.7,81.4 665.6,80.6 666.6,80.0 667.6,79.7 668.5,79.1 669.5,78.5 670.4,78.2 671.2,77.8 672.0,77.0 673.1,76.6 674.0,75.7 674.9,75.2 675.7,74.5 676.5,74.1 677.3,73.2 678.2,72.3 679.0,71.8 680.0,71.0 680.8,70.6 681.7,70.3 682.6,70.2 683.5,69.7 684.4,69.3 685.3,68.6 686.3,68.3 687.2,68.1 688.2,67.3 689.1,67.0 690.0,66.8 691.0,66.4 692.0,65.9 692.9,65.4 693.9,64.8 694.9,64.6 695.9,64.3 696.9,63.6 697.9,63.0 698.9,63.2 700.0,62.9 700.9,62.6 701.9,62.3 702.9,62.4 703.9,62.4 705.0,62.9 706.0,63.1 707.0,63.1 708.1,62.7 709.1,62.8 710.1,62.9 711.1,63.3 712.0,63.2 713.1,62.8 714.2,63.1 715.2,63.2 716.2,63.0 717.2,62.6 718.2,62.5 719.2,62.5 720.2,62.3 721.1,62.1 722.0,61.7 723.1,61.8 724.1,61.4 725.1,60.9 726.1,61.0 727.1,60.4 728.0,60.3 729.0,59.9 730.0,59.1 731.0,58.7 732.0,57.8 733.0,57.5 734.1,57.2 735.1,56.7 736.1,56.0 737.0,55.4 738.0,54.7 739.1,54.2 740.1,53.8 741.1,53.4 742.1,53.0 743.0,52.6 744.0,51.9 745.0,51.8 746.0,51.5 747.0,51.0 747.9,50.9 748.9,50.4 749.9,50.2 750.9,49.8 752.0,49.4 752.9,49.1 753.9,49.2 754.8,49.1 755.8,48.7 756.8,48.7 757.8,48.6 758.9,48.5 760.0,48.4 760.9,48.0 761.9,48.0 762.8,48.2 763.8,47.8 764.8,47.9 765.9,47.5 766.9,47.8 767.9,47.8 769.0,47.6 770.0,47.4 771.1,47.2 772.2,47.7 773.4,47.6 774.7,47.2 775.9,46.9 777.0,46.8 778.1,47.0 779.1,47.3 779.9,47.2 780.5,47.4" fill="none" stroke="#191970" stroke-width="2.6" stroke-linejoin="round" stroke-linecap="butt"/></g>
<rect x="45.0" y="21.2" width="347.3" height="245.2" fill="none" stroke="#3a3a3a" stroke-width="1.3"/>
<line x1="60.30" y1="266.4" x2="60.30" y2="262.9" stroke="#3a3a3a" stroke-width="1.1"/>
<line x1="60.30" y1="21.2" x2="60.30" y2="24.7" stroke="#3a3a3a" stroke-width="1.1"/>
<text x="60.30" y="283.0" class="t" text-anchor="middle">0</text>
<line x1="139.43" y1="266.4" x2="139.43" y2="262.9" stroke="#3a3a3a" stroke-width="1.1"/>
<line x1="139.43" y1="21.2" x2="139.43" y2="24.7" stroke="#3a3a3a" stroke-width="1.1"/>
<text x="139.43" y="283.0" class="t" text-anchor="middle">5</text>
<line x1="218.55" y1="266.4" x2="218.55" y2="262.9" stroke="#3a3a3a" stroke-width="1.1"/>
<line x1="218.55" y1="21.2" x2="218.55" y2="24.7" stroke="#3a3a3a" stroke-width="1.1"/>
<text x="218.55" y="283.0" class="t" text-anchor="middle">10</text>
<line x1="297.68" y1="266.4" x2="297.68" y2="262.9" stroke="#3a3a3a" stroke-width="1.1"/>
<line x1="297.68" y1="21.2" x2="297.68" y2="24.7" stroke="#3a3a3a" stroke-width="1.1"/>
<text x="297.68" y="283.0" class="t" text-anchor="middle">15</text>
<line x1="376.80" y1="266.4" x2="376.80" y2="262.9" stroke="#3a3a3a" stroke-width="1.1"/>
<line x1="376.80" y1="21.2" x2="376.80" y2="24.7" stroke="#3a3a3a" stroke-width="1.1"/>
<text x="376.80" y="283.0" class="t" text-anchor="middle">20</text>
<line x1="45.0" y1="255.60" x2="48.5" y2="255.60" stroke="#3a3a3a" stroke-width="1.1"/>
<line x1="392.3" y1="255.60" x2="388.8" y2="255.60" stroke="#3a3a3a" stroke-width="1.1"/>
<text x="41.0" y="260.90" class="t" text-anchor="end">0.0</text>
<line x1="45.0" y1="216.54" x2="48.5" y2="216.54" stroke="#3a3a3a" stroke-width="1.1"/>
<line x1="392.3" y1="216.54" x2="388.8" y2="216.54" stroke="#3a3a3a" stroke-width="1.1"/>
<text x="41.0" y="221.84" class="t" text-anchor="end">0.2</text>
<line x1="45.0" y1="177.48" x2="48.5" y2="177.48" stroke="#3a3a3a" stroke-width="1.1"/>
<line x1="392.3" y1="177.48" x2="388.8" y2="177.48" stroke="#3a3a3a" stroke-width="1.1"/>
<text x="41.0" y="182.78" class="t" text-anchor="end">0.4</text>
<line x1="45.0" y1="138.42" x2="48.5" y2="138.42" stroke="#3a3a3a" stroke-width="1.1"/>
<line x1="392.3" y1="138.42" x2="388.8" y2="138.42" stroke="#3a3a3a" stroke-width="1.1"/>
<text x="41.0" y="143.72" class="t" text-anchor="end">0.6</text>
<line x1="45.0" y1="99.36" x2="48.5" y2="99.36" stroke="#3a3a3a" stroke-width="1.1"/>
<line x1="392.3" y1="99.36" x2="388.8" y2="99.36" stroke="#3a3a3a" stroke-width="1.1"/>
<text x="41.0" y="104.66" class="t" text-anchor="end">0.8</text>
<line x1="45.0" y1="60.30" x2="48.5" y2="60.30" stroke="#3a3a3a" stroke-width="1.1"/>
<line x1="392.3" y1="60.30" x2="388.8" y2="60.30" stroke="#3a3a3a" stroke-width="1.1"/>
<text x="41.0" y="65.60" class="t" text-anchor="end">1.0</text>
<line x1="45.0" y1="21.24" x2="48.5" y2="21.24" stroke="#3a3a3a" stroke-width="1.1"/>
<line x1="392.3" y1="21.24" x2="388.8" y2="21.24" stroke="#3a3a3a" stroke-width="1.1"/>
<text x="41.0" y="26.54" class="t" text-anchor="end">1.2</text>
<rect x="448.5" y="20.6" width="346.5" height="246.00000000000003" fill="none" stroke="#3a3a3a" stroke-width="1.3"/>
<line x1="463.60" y1="266.6" x2="463.60" y2="263.1" stroke="#3a3a3a" stroke-width="1.1"/>
<line x1="463.60" y1="20.6" x2="463.60" y2="24.1" stroke="#3a3a3a" stroke-width="1.1"/>
<text x="463.60" y="283.0" class="t" text-anchor="middle">0</text>
<line x1="542.70" y1="266.6" x2="542.70" y2="263.1" stroke="#3a3a3a" stroke-width="1.1"/>
<line x1="542.70" y1="20.6" x2="542.70" y2="24.1" stroke="#3a3a3a" stroke-width="1.1"/>
<text x="542.70" y="283.0" class="t" text-anchor="middle">5</text>
<line x1="621.80" y1="266.6" x2="621.80" y2="263.1" stroke="#3a3a3a" stroke-width="1.1"/>
<line x1="621.80" y1="20.6" x2="621.80" y2="24.1" stroke="#3a3a3a" stroke-width="1.1"/>
<text x="621.80" y="283.0" class="t" text-anchor="middle">10</text>
<line x1="700.90" y1="266.6" x2="700.90" y2="263.1" stroke="#3a3a3a" stroke-width="1.1"/>
<line x1="700.90" y1="20.6" x2="700.90" y2="24.1" stroke="#3a3a3a" stroke-width="1.1"/>
<text x="700.90" y="283.0" class="t" text-anchor="middle">15</text>
<line x1="780.00" y1="266.6" x2="780.00" y2="263.1" stroke="#3a3a3a" stroke-width="1.1"/>
<line x1="780.00" y1="20.6" x2="780.00" y2="24.1" stroke="#3a3a3a" stroke-width="1.1"/>
<text x="780.00" y="283.0" class="t" text-anchor="middle">20</text>
<line x1="448.5" y1="255.40" x2="452.0" y2="255.40" stroke="#3a3a3a" stroke-width="1.1"/>
<line x1="795" y1="255.40" x2="791.5" y2="255.40" stroke="#3a3a3a" stroke-width="1.1"/>
<text x="444.5" y="260.70" class="t" text-anchor="end">0.0</text>
<line x1="448.5" y1="212.80" x2="452.0" y2="212.80" stroke="#3a3a3a" stroke-width="1.1"/>
<line x1="795" y1="212.80" x2="791.5" y2="212.80" stroke="#3a3a3a" stroke-width="1.1"/>
<text x="444.5" y="218.10" class="t" text-anchor="end">0.2</text>
<line x1="448.5" y1="170.20" x2="452.0" y2="170.20" stroke="#3a3a3a" stroke-width="1.1"/>
<line x1="795" y1="170.20" x2="791.5" y2="170.20" stroke="#3a3a3a" stroke-width="1.1"/>
<text x="444.5" y="175.50" class="t" text-anchor="end">0.4</text>
<line x1="448.5" y1="127.60" x2="452.0" y2="127.60" stroke="#3a3a3a" stroke-width="1.1"/>
<line x1="795" y1="127.60" x2="791.5" y2="127.60" stroke="#3a3a3a" stroke-width="1.1"/>
<text x="444.5" y="132.90" class="t" text-anchor="end">0.6</text>
<line x1="448.5" y1="85.00" x2="452.0" y2="85.00" stroke="#3a3a3a" stroke-width="1.1"/>
<line x1="795" y1="85.00" x2="791.5" y2="85.00" stroke="#3a3a3a" stroke-width="1.1"/>
<text x="444.5" y="90.30" class="t" text-anchor="end">0.8</text>
<line x1="448.5" y1="42.40" x2="452.0" y2="42.40" stroke="#3a3a3a" stroke-width="1.1"/>
<line x1="795" y1="42.40" x2="791.5" y2="42.40" stroke="#3a3a3a" stroke-width="1.1"/>
<text x="444.5" y="47.70" class="t" text-anchor="end">1.0</text>
<rect x="290.2" y="80.4" width="95.4" height="178.9" rx="2.5" fill="#fff" fill-opacity="0.8" stroke="#d8d8e6" stroke-width="1"/>
<line x1="293.8" y1="90.70" x2="325.09999999999997" y2="90.70" stroke="#f9d8a5" stroke-width="3.2"/>
<text x="334.5" y="95.90" class="lg" xml:space="preserve"> 9 wt %</text>
<line x1="293.8" y1="110.18" x2="325.09999999999997" y2="110.18" stroke="#dea176" stroke-width="3.2"/>
<text x="334.5" y="115.38" class="lg" xml:space="preserve">19 wt %</text>
<line x1="293.8" y1="129.66" x2="325.09999999999997" y2="129.66" stroke="#f47a4e" stroke-width="3.2"/>
<text x="334.5" y="134.86" class="lg" xml:space="preserve">27 wt %</text>
<line x1="293.8" y1="149.14" x2="325.09999999999997" y2="149.14" stroke="#fb8a1e" stroke-width="3.2"/>
<text x="334.5" y="154.34" class="lg" xml:space="preserve">34 wt %</text>
<line x1="293.8" y1="168.62" x2="325.09999999999997" y2="168.62" stroke="#e2521c" stroke-width="3.2"/>
<text x="334.5" y="173.82" class="lg" xml:space="preserve">40 wt %</text>
<line x1="293.8" y1="188.10" x2="325.09999999999997" y2="188.10" stroke="#d66a50" stroke-width="3.2"/>
<text x="334.5" y="193.30" class="lg" xml:space="preserve">46 wt %</text>
<line x1="293.8" y1="207.58" x2="325.09999999999997" y2="207.58" stroke="#c02a2a" stroke-width="3.2"/>
<text x="334.5" y="212.78" class="lg" xml:space="preserve">50 wt %</text>
<line x1="293.8" y1="227.06" x2="325.09999999999997" y2="227.06" stroke="#9a4312" stroke-width="3.2"/>
<text x="334.5" y="232.26" class="lg" xml:space="preserve">60 wt %</text>
<line x1="293.8" y1="246.54" x2="325.09999999999997" y2="246.54" stroke="#870000" stroke-width="3.2"/>
<text x="334.5" y="251.74" class="lg" xml:space="preserve">67 wt %</text>
<rect x="693.4" y="80.6" width="95.4" height="178.9" rx="2.5" fill="#fff" fill-opacity="0.8" stroke="#d8d8e6" stroke-width="1"/>
<line x1="697.0" y1="90.90" x2="728.3" y2="90.90" stroke="#b0c4de" stroke-width="3.2"/>
<text x="737.6999999999999" y="96.10" class="lg" xml:space="preserve"> 9 wt %</text>
<line x1="697.0" y1="110.38" x2="728.3" y2="110.38" stroke="#00ced1" stroke-width="3.2"/>
<text x="737.6999999999999" y="115.58" class="lg" xml:space="preserve">19 wt %</text>
<line x1="697.0" y1="129.86" x2="728.3" y2="129.86" stroke="#17bde2" stroke-width="3.2"/>
<text x="737.6999999999999" y="135.06" class="lg" xml:space="preserve">27 wt %</text>
<line x1="697.0" y1="149.34" x2="728.3" y2="149.34" stroke="#5f9ea0" stroke-width="3.2"/>
<text x="737.6999999999999" y="154.54" class="lg" xml:space="preserve">34 wt %</text>
<line x1="697.0" y1="168.82" x2="728.3" y2="168.82" stroke="#1e90ff" stroke-width="3.2"/>
<text x="737.6999999999999" y="174.02" class="lg" xml:space="preserve">40 wt %</text>
<line x1="697.0" y1="188.30" x2="728.3" y2="188.30" stroke="#4169e1" stroke-width="3.2"/>
<text x="737.6999999999999" y="193.50" class="lg" xml:space="preserve">46 wt %</text>
<line x1="697.0" y1="207.78" x2="728.3" y2="207.78" stroke="#0000ee" stroke-width="3.2"/>
<text x="737.6999999999999" y="212.98" class="lg" xml:space="preserve">50 wt %</text>
<line x1="697.0" y1="227.26" x2="728.3" y2="227.26" stroke="#0000cd" stroke-width="3.2"/>
<text x="737.6999999999999" y="232.46" class="lg" xml:space="preserve">60 wt %</text>
<line x1="697.0" y1="246.74" x2="728.3" y2="246.74" stroke="#191970" stroke-width="3.2"/>
<text x="737.6999999999999" y="251.94" class="lg" xml:space="preserve">67 wt %</text>
<text x="45.6" y="14.7" class="ti" textLength="27.6" lengthAdjust="spacingAndGlyphs">(a)</text><text x="81.0" y="14.7" class="ti" textLength="46" lengthAdjust="spacingAndGlyphs">NMP</text>
<text x="449.0" y="14.7" class="ti" textLength="27.6" lengthAdjust="spacingAndGlyphs">(b)</text><text x="484.6" y="14.7" class="ti" textLength="45" lengthAdjust="spacingAndGlyphs">DMF</text>
<text x="218.5" y="303.2" class="t" text-anchor="middle">Distance [Å]</text>
<text x="622" y="303.2" class="t" text-anchor="middle">Distance [Å]</text>
<text transform="translate(12.3,143.3) rotate(-90)" class="t" style="font-size:16px" text-anchor="middle">Radial Distribution Function, g(r)</text>
<text transform="translate(415.6,143.3) rotate(-90)" class="t" style="font-size:16px" text-anchor="middle">Radial Distribution Function, g(r)</text>
</svg></body></html>
